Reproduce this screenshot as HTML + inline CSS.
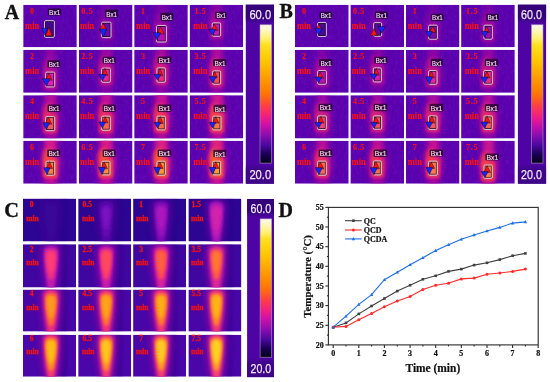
<!DOCTYPE html><html><head><meta charset="utf-8"><title>Thermal imaging figure</title>
<style>html,body{margin:0;padding:0;background:#fff;width:550px;height:382px;overflow:hidden}svg{display:block}.lab{font-family:"Liberation Serif",serif;font-weight:bold;fill:#111;stroke:#111;stroke-width:0.35px}.red{font-family:"Liberation Serif",serif;font-weight:bold;fill:#ff1010;stroke:#ff1010;stroke-width:0.15px}.cred{font-family:"Liberation Serif",serif;font-weight:bold;fill:#f41212;stroke:#f41212;stroke-width:0.3px}.bx{font-family:"Liberation Sans",sans-serif;fill:#eee0ee;stroke:#eee0ee;stroke-width:0.12px}.cb{font-family:"Liberation Sans",sans-serif;fill:#f2e6f2;stroke:#f2e6f2;stroke-width:0.25px}.ax{font-family:"Liberation Serif",serif;font-weight:bold;fill:#111;stroke:#111;stroke-width:0.2px}</style></head><body>
<svg width="550" height="382" viewBox="0 0 550 382">
<defs>
<filter id="b0_6" x="-50%" y="-50%" width="200%" height="200%"><feGaussianBlur stdDeviation="0.6"/></filter>
<filter id="b1" x="-50%" y="-50%" width="200%" height="200%"><feGaussianBlur stdDeviation="1"/></filter>
<filter id="b1_5" x="-50%" y="-50%" width="200%" height="200%"><feGaussianBlur stdDeviation="1.5"/></filter>
<filter id="b2" x="-50%" y="-50%" width="200%" height="200%"><feGaussianBlur stdDeviation="2"/></filter>
<filter id="b2_5" x="-50%" y="-50%" width="200%" height="200%"><feGaussianBlur stdDeviation="2.5"/></filter>
<filter id="b3" x="-50%" y="-50%" width="200%" height="200%"><feGaussianBlur stdDeviation="3"/></filter>
<filter id="b4" x="-50%" y="-50%" width="200%" height="200%"><feGaussianBlur stdDeviation="4"/></filter>
<linearGradient id="cbar" x1="0" y1="0" x2="0" y2="1">
<stop offset="0" stop-color="#f8f8f0"/>
<stop offset="0.04" stop-color="#fdf8c0"/>
<stop offset="0.1" stop-color="#fff070"/>
<stop offset="0.146" stop-color="#ffe020"/>
<stop offset="0.255" stop-color="#ffc800"/>
<stop offset="0.36" stop-color="#ffa400"/>
<stop offset="0.47" stop-color="#ff8000"/>
<stop offset="0.52" stop-color="#ff6a10"/>
<stop offset="0.59" stop-color="#ff3c48"/>
<stop offset="0.67" stop-color="#ec1c88"/>
<stop offset="0.725" stop-color="#cc10a8"/>
<stop offset="0.8" stop-color="#8a0cb0"/>
<stop offset="0.87" stop-color="#4a08a0"/>
<stop offset="0.94" stop-color="#180050"/>
<stop offset="1" stop-color="#060018"/>
</linearGradient>
<linearGradient id="hdr" x1="0" y1="0" x2="0" y2="1"><stop offset="0" stop-color="#34037a"/><stop offset="0.7" stop-color="#34037a"/><stop offset="1" stop-color="#34037a" stop-opacity="0"/></linearGradient>
<linearGradient id="ftr" x1="0" y1="0" x2="0" y2="1"><stop offset="0" stop-color="#3e0588" stop-opacity="0"/><stop offset="0.3" stop-color="#3e0588"/><stop offset="1" stop-color="#3e0588"/></linearGradient>
<filter id="noise" x="0" y="0" width="100%" height="100%"><feTurbulence type="fractalNoise" baseFrequency="0.45 0.2" numOctaves="2" seed="3" result="n"/><feColorMatrix in="n" type="matrix" values="0 0 0 0 0.5  0 0 0 0 0.05  0 0 0 0 0.85  0 0 0 1.6 -0.6"/></filter>
</defs>
<rect width="550" height="382" fill="#fff"/>
<text class="lab" x="4.8" y="18.5" font-size="20">A</text>
<text class="lab" x="279.4" y="17.9" font-size="20">B</text>
<text class="lab" x="4.2" y="216.9" font-size="20.3">C</text>
<text class="lab" x="278.6" y="216.7" font-size="20">D</text>
<clipPath id="cA0"><rect x="23.2" y="4.8" width="53.6" height="42.5"/></clipPath>
<g clip-path="url(#cA0)">
<rect x="23.2" y="4.8" width="53.6" height="42.5" fill="#5902ae"/>
<rect x="23.2" y="4.8" width="53.6" height="42.5" filter="url(#noise)" opacity="0.15"/>
</g>
<rect x="45.00" y="21.10" width="8.90" height="15.80" fill="#44088c"/>
<rect x="45.60" y="21.70" width="7.70" height="14.60" fill="none" stroke="#1a0a28" stroke-width="0.8" opacity="0.9"/>
<rect x="44.55" y="20.65" width="9.80" height="16.70" rx="1.2" fill="none" stroke="#d2c6d2" stroke-width="1.0"/>
<polygon points="45.35,35.75 48.75,27.25 52.15,35.75" fill="#ff1414" stroke="#12040c" stroke-width="0.45" stroke-linejoin="round"/>
<polygon points="41.85,28.25 47.95,28.25 44.90,35.15" fill="#1424ff" stroke="#12040c" stroke-width="0.45" stroke-linejoin="round"/>
<rect x="47.90" y="8.50" width="13.30" height="7.10" rx="1.3" fill="#180422" opacity="0.74"/>
<text class="bx" x="49.10" y="14.80" font-size="7.4" textLength="11.30" lengthAdjust="spacingAndGlyphs">Bx1</text>
<text class="red" x="32.1" y="13.8" font-size="8.1" text-anchor="middle" letter-spacing="0.0">0</text>
<text class="red" x="25.1" y="28.7" font-size="9.4" textLength="14.2" lengthAdjust="spacingAndGlyphs">min</text>
<clipPath id="cA1"><rect x="78.9" y="4.8" width="53.6" height="42.5"/></clipPath>
<g clip-path="url(#cA1)">
<rect x="78.9" y="4.8" width="53.6" height="42.5" fill="#5902ae"/>
<rect x="96.6" y="-1.2" width="20.0" height="54.5" fill="#7d00a6" opacity="0.08" filter="url(#b3)"/>
<linearGradient id="gA1" x1="0" y1="0" x2="1" y2="0"><stop offset="0" stop-color="#9a01a8" stop-opacity="0"/><stop offset="0.22" stop-color="#9a01a8" stop-opacity="0.55"/><stop offset="0.42" stop-color="#9a01a8"/><stop offset="0.6" stop-color="#9a01a8"/><stop offset="0.8" stop-color="#9a01a8" stop-opacity="0.5"/><stop offset="1" stop-color="#9a01a8" stop-opacity="0"/></linearGradient>
<rect x="97.1" y="4.8" width="19.0" height="42.5" fill="url(#gA1)" opacity="0.17"/>
<ellipse cx="106.6" cy="24.6" rx="9" ry="17.7" fill="#9a02a8" opacity="0.21" filter="url(#b3)"/>
<rect x="102.1" y="0.8" width="9.0" height="39.4" fill="#b50c9c" opacity="0.07" filter="url(#b2)"/>
<ellipse cx="103.6" cy="17.2" rx="4.5" ry="8.4" fill="#db1d84" opacity="0.07" filter="url(#b2)"/>
<rect x="99.3" y="19.8" width="14.1" height="20.2" fill="#c91492" opacity="0.32" filter="url(#b1_5)"/>
<rect x="78.9" y="4.8" width="53.6" height="42.5" filter="url(#noise)" opacity="0.15"/>
</g>
<rect x="102.10" y="22.60" width="8.50" height="14.60" fill="#6a0aa8"/>
<rect x="102.70" y="23.20" width="7.30" height="13.40" fill="none" stroke="#1a0a28" stroke-width="0.8" opacity="0.9"/>
<rect x="101.65" y="22.15" width="9.40" height="15.50" rx="1.2" fill="none" stroke="#d2c6d2" stroke-width="1.0"/>
<polygon points="99.25,30.45 103.00,22.95 106.75,30.45" fill="#ff1414" stroke="#12040c" stroke-width="0.45" stroke-linejoin="round"/>
<polygon points="99.65,28.95 106.75,28.95 103.20,37.15" fill="#1424ff" stroke="#12040c" stroke-width="0.45" stroke-linejoin="round"/>
<rect x="105.10" y="9.60" width="12.80" height="8.00" rx="1.3" fill="#180422" opacity="0.74"/>
<text class="bx" x="106.30" y="16.80" font-size="7.4" textLength="10.80" lengthAdjust="spacingAndGlyphs">Bx1</text>
<text class="red" x="87.4" y="13.8" font-size="8.1" text-anchor="middle" letter-spacing="0.7">0.5</text>
<text class="red" x="80.1" y="28.7" font-size="9.4" textLength="14.2" lengthAdjust="spacingAndGlyphs">min</text>
<clipPath id="cA2"><rect x="134.2" y="4.8" width="53.6" height="42.5"/></clipPath>
<g clip-path="url(#cA2)">
<rect x="134.2" y="4.8" width="53.6" height="42.5" fill="#5902ae"/>
<rect x="151.8" y="-1.2" width="20.0" height="54.5" fill="#7f00a7" opacity="0.11" filter="url(#b3)"/>
<linearGradient id="gA2" x1="0" y1="0" x2="1" y2="0"><stop offset="0" stop-color="#9d03a7" stop-opacity="0"/><stop offset="0.22" stop-color="#9d03a7" stop-opacity="0.55"/><stop offset="0.42" stop-color="#9d03a7"/><stop offset="0.6" stop-color="#9d03a7"/><stop offset="0.8" stop-color="#9d03a7" stop-opacity="0.5"/><stop offset="1" stop-color="#9d03a7" stop-opacity="0"/></linearGradient>
<rect x="152.2" y="4.8" width="19.0" height="42.5" fill="url(#gA2)" opacity="0.24"/>
<ellipse cx="161.8" cy="28.4" rx="9" ry="18.2" fill="#9f03a6" opacity="0.28" filter="url(#b3)"/>
<rect x="157.2" y="0.8" width="9.0" height="43.8" fill="#b80d9a" opacity="0.13" filter="url(#b2)"/>
<ellipse cx="158.5" cy="20.5" rx="4.5" ry="8.4" fill="#df217c" opacity="0.15" filter="url(#b2)"/>
<rect x="154.2" y="23.1" width="14.5" height="21.3" fill="#d1178f" opacity="0.38" filter="url(#b1_5)"/>
<rect x="134.2" y="4.8" width="53.6" height="42.5" filter="url(#noise)" opacity="0.15"/>
</g>
<rect x="157.00" y="25.90" width="8.90" height="15.70" fill="#b010b4"/>
<rect x="157.60" y="26.50" width="7.70" height="14.50" fill="none" stroke="#1a0a28" stroke-width="0.8" opacity="0.9"/>
<rect x="156.55" y="25.45" width="9.80" height="16.60" rx="1.2" fill="none" stroke="#d2c6d2" stroke-width="1.0"/>
<polygon points="157.05,33.85 160.60,26.65 164.15,33.85" fill="#ff1414" stroke="#12040c" stroke-width="0.45" stroke-linejoin="round"/>
<polygon points="153.15,32.65 160.65,32.65 156.90,39.85" fill="#1424ff" stroke="#12040c" stroke-width="0.45" stroke-linejoin="round"/>
<rect x="160.50" y="12.80" width="12.80" height="8.10" rx="1.3" fill="#180422" opacity="0.74"/>
<text class="bx" x="161.70" y="20.10" font-size="7.4" textLength="10.80" lengthAdjust="spacingAndGlyphs">Bx1</text>
<text class="red" x="143.1" y="13.8" font-size="8.1" text-anchor="middle" letter-spacing="0.0">1</text>
<text class="red" x="136.1" y="28.7" font-size="9.4" textLength="14.2" lengthAdjust="spacingAndGlyphs">min</text>
<clipPath id="cA3"><rect x="189.6" y="4.8" width="53.6" height="42.5"/></clipPath>
<g clip-path="url(#cA3)">
<rect x="189.6" y="4.8" width="53.6" height="42.5" fill="#5902ae"/>
<rect x="206.8" y="-1.2" width="20.0" height="54.5" fill="#8000a7" opacity="0.14" filter="url(#b3)"/>
<linearGradient id="gA3" x1="0" y1="0" x2="1" y2="0"><stop offset="0" stop-color="#a104a5" stop-opacity="0"/><stop offset="0.22" stop-color="#a104a5" stop-opacity="0.55"/><stop offset="0.42" stop-color="#a104a5"/><stop offset="0.6" stop-color="#a104a5"/><stop offset="0.8" stop-color="#a104a5" stop-opacity="0.5"/><stop offset="1" stop-color="#a104a5" stop-opacity="0"/></linearGradient>
<rect x="207.2" y="4.8" width="19.0" height="42.5" fill="url(#gA3)" opacity="0.31"/>
<ellipse cx="216.8" cy="24.9" rx="9" ry="15.8" fill="#a305a4" opacity="0.35" filter="url(#b3)"/>
<rect x="212.2" y="0.8" width="9.0" height="38.0" fill="#bc0f98" opacity="0.20" filter="url(#b2)"/>
<ellipse cx="214.2" cy="18.7" rx="4.5" ry="7.6" fill="#e32575" opacity="0.22" filter="url(#b2)"/>
<rect x="209.9" y="20.5" width="13.1" height="18.1" fill="#d81a8a" opacity="0.45" filter="url(#b1_5)"/>
<rect x="189.6" y="4.8" width="53.6" height="42.5" filter="url(#noise)" opacity="0.15"/>
</g>
<rect x="212.70" y="23.30" width="7.50" height="12.50" fill="#c818b0"/>
<rect x="213.30" y="23.90" width="6.30" height="11.30" fill="none" stroke="#1a0a28" stroke-width="0.8" opacity="0.9"/>
<rect x="212.25" y="22.85" width="8.40" height="13.40" rx="1.2" fill="none" stroke="#d2c6d2" stroke-width="1.0"/>
<polygon points="210.85,30.45 214.40,24.35 217.95,30.45" fill="#ff1414" stroke="#12040c" stroke-width="0.45" stroke-linejoin="round"/>
<polygon points="208.85,29.25 215.95,29.25 212.40,35.35" fill="#1424ff" stroke="#12040c" stroke-width="0.45" stroke-linejoin="round"/>
<rect x="215.20" y="11.80" width="11.40" height="6.90" rx="1.3" fill="#180422" opacity="0.74"/>
<text class="bx" x="216.40" y="17.90" font-size="7.4" textLength="9.40" lengthAdjust="spacingAndGlyphs">Bx1</text>
<text class="red" x="200.5" y="13.8" font-size="8.1" text-anchor="middle" letter-spacing="0.7">1.5</text>
<text class="red" x="193.2" y="28.7" font-size="9.4" textLength="14.2" lengthAdjust="spacingAndGlyphs">min</text>
<clipPath id="cA4"><rect x="23.2" y="49.8" width="53.6" height="43.0"/></clipPath>
<g clip-path="url(#cA4)">
<rect x="23.2" y="49.8" width="53.6" height="43.0" fill="#5902ae"/>
<rect x="40.5" y="43.8" width="20.0" height="55.0" fill="#8200a7" opacity="0.17" filter="url(#b3)"/>
<linearGradient id="gA4" x1="0" y1="0" x2="1" y2="0"><stop offset="0" stop-color="#a406a3" stop-opacity="0"/><stop offset="0.22" stop-color="#a406a3" stop-opacity="0.55"/><stop offset="0.42" stop-color="#a406a3"/><stop offset="0.6" stop-color="#a406a3"/><stop offset="0.8" stop-color="#a406a3" stop-opacity="0.5"/><stop offset="1" stop-color="#a406a3" stop-opacity="0"/></linearGradient>
<rect x="41.0" y="49.8" width="19.0" height="43.0" fill="url(#gA4)" opacity="0.38"/>
<ellipse cx="50.5" cy="74.5" rx="9" ry="17.0" fill="#a707a2" opacity="0.42" filter="url(#b3)"/>
<rect x="46.0" y="45.8" width="9.0" height="43.7" fill="#c01097" opacity="0.27" filter="url(#b2)"/>
<ellipse cx="47.6" cy="67.5" rx="4.5" ry="8.0" fill="#e7296d" opacity="0.29" filter="url(#b2)"/>
<rect x="43.3" y="69.7" width="13.8" height="19.6" fill="#dc1e81" opacity="0.52" filter="url(#b1_5)"/>
<rect x="23.2" y="49.8" width="53.6" height="43.0" filter="url(#noise)" opacity="0.15"/>
</g>
<rect x="46.10" y="72.50" width="8.20" height="14.00" fill="#e020b8"/>
<rect x="46.70" y="73.10" width="7.00" height="12.80" fill="none" stroke="#1a0a28" stroke-width="0.8" opacity="0.9"/>
<rect x="45.65" y="72.05" width="9.10" height="14.90" rx="1.2" fill="none" stroke="#d2c6d2" stroke-width="1.0"/>
<polygon points="45.75,80.15 48.95,73.05 52.15,80.15" fill="#ff1414" stroke="#12040c" stroke-width="0.45" stroke-linejoin="round"/>
<polygon points="42.55,78.65 50.05,78.65 46.30,86.15" fill="#1424ff" stroke="#12040c" stroke-width="0.45" stroke-linejoin="round"/>
<rect x="47.50" y="60.20" width="12.80" height="7.40" rx="1.3" fill="#180422" opacity="0.74"/>
<text class="bx" x="48.70" y="66.80" font-size="7.4" textLength="10.80" lengthAdjust="spacingAndGlyphs">Bx1</text>
<text class="red" x="32.1" y="58.8" font-size="8.1" text-anchor="middle" letter-spacing="0.0">2</text>
<text class="red" x="25.1" y="73.7" font-size="9.4" textLength="14.2" lengthAdjust="spacingAndGlyphs">min</text>
<clipPath id="cA5"><rect x="78.9" y="49.8" width="53.6" height="43.0"/></clipPath>
<g clip-path="url(#cA5)">
<rect x="78.9" y="49.8" width="53.6" height="43.0" fill="#5902ae"/>
<rect x="96.3" y="43.8" width="20.0" height="55.0" fill="#8400a7" opacity="0.20" filter="url(#b3)"/>
<linearGradient id="gA5" x1="0" y1="0" x2="1" y2="0"><stop offset="0" stop-color="#a807a2" stop-opacity="0"/><stop offset="0.22" stop-color="#a807a2" stop-opacity="0.55"/><stop offset="0.42" stop-color="#a807a2"/><stop offset="0.6" stop-color="#a807a2"/><stop offset="0.8" stop-color="#a807a2" stop-opacity="0.5"/><stop offset="1" stop-color="#a807a2" stop-opacity="0"/></linearGradient>
<rect x="96.8" y="49.8" width="19.0" height="43.0" fill="url(#gA5)" opacity="0.45"/>
<ellipse cx="106.3" cy="70.4" rx="9" ry="16.4" fill="#ac08a0" opacity="0.49" filter="url(#b3)"/>
<rect x="101.8" y="45.8" width="9.0" height="39.0" fill="#c31195" opacity="0.33" filter="url(#b2)"/>
<ellipse cx="103.6" cy="63.8" rx="4.5" ry="7.8" fill="#ea2c65" opacity="0.37" filter="url(#b2)"/>
<rect x="99.3" y="65.7" width="13.4" height="18.9" fill="#e12379" opacity="0.58" filter="url(#b1_5)"/>
<rect x="78.9" y="49.8" width="53.6" height="43.0" filter="url(#noise)" opacity="0.15"/>
</g>
<rect x="102.10" y="68.50" width="7.80" height="13.30" fill="#f02494"/>
<rect x="102.70" y="69.10" width="6.60" height="12.10" fill="none" stroke="#1a0a28" stroke-width="0.8" opacity="0.9"/>
<rect x="101.65" y="68.05" width="8.70" height="14.20" rx="1.2" fill="none" stroke="#d2c6d2" stroke-width="1.0"/>
<polygon points="102.05,75.45 104.90,68.25 107.75,75.45" fill="#ff1414" stroke="#12040c" stroke-width="0.45" stroke-linejoin="round"/>
<polygon points="98.55,74.35 106.05,74.35 102.30,80.75" fill="#1424ff" stroke="#12040c" stroke-width="0.45" stroke-linejoin="round"/>
<rect x="102.60" y="56.70" width="13.00" height="6.90" rx="1.3" fill="#180422" opacity="0.74"/>
<text class="bx" x="103.80" y="62.80" font-size="7.4" textLength="11.00" lengthAdjust="spacingAndGlyphs">Bx1</text>
<text class="red" x="87.4" y="58.8" font-size="8.1" text-anchor="middle" letter-spacing="0.7">2.5</text>
<text class="red" x="80.1" y="73.7" font-size="9.4" textLength="14.2" lengthAdjust="spacingAndGlyphs">min</text>
<clipPath id="cA6"><rect x="134.2" y="49.8" width="53.6" height="43.0"/></clipPath>
<g clip-path="url(#cA6)">
<rect x="134.2" y="49.8" width="53.6" height="43.0" fill="#5902ae"/>
<rect x="151.5" y="43.8" width="20.0" height="55.0" fill="#8600a8" opacity="0.22" filter="url(#b3)"/>
<linearGradient id="gA6" x1="0" y1="0" x2="1" y2="0"><stop offset="0" stop-color="#ac08a0" stop-opacity="0"/><stop offset="0.22" stop-color="#ac08a0" stop-opacity="0.55"/><stop offset="0.42" stop-color="#ac08a0"/><stop offset="0.6" stop-color="#ac08a0"/><stop offset="0.8" stop-color="#ac08a0" stop-opacity="0.5"/><stop offset="1" stop-color="#ac08a0" stop-opacity="0"/></linearGradient>
<rect x="152.0" y="49.8" width="19.0" height="43.0" fill="url(#gA6)" opacity="0.53"/>
<ellipse cx="161.5" cy="70.3" rx="9" ry="16.5" fill="#b00a9e" opacity="0.57" filter="url(#b3)"/>
<rect x="157.0" y="45.8" width="9.0" height="39.0" fill="#c71394" opacity="0.40" filter="url(#b2)"/>
<ellipse cx="158.9" cy="63.5" rx="4.5" ry="7.8" fill="#ee305d" opacity="0.44" filter="url(#b2)"/>
<rect x="154.6" y="65.5" width="13.1" height="19.1" fill="#e52770" opacity="0.65" filter="url(#b1_5)"/>
<rect x="134.2" y="49.8" width="53.6" height="43.0" filter="url(#noise)" opacity="0.15"/>
</g>
<rect x="157.40" y="68.30" width="7.50" height="13.50" fill="#f02a80"/>
<rect x="158.00" y="68.90" width="6.30" height="12.30" fill="none" stroke="#1a0a28" stroke-width="0.8" opacity="0.9"/>
<rect x="156.95" y="67.85" width="8.40" height="14.40" rx="1.2" fill="none" stroke="#d2c6d2" stroke-width="1.0"/>
<polygon points="157.45,75.85 160.15,68.65 162.85,75.85" fill="#ff1414" stroke="#12040c" stroke-width="0.45" stroke-linejoin="round"/>
<polygon points="153.85,74.35 161.05,74.35 157.45,80.05" fill="#1424ff" stroke="#12040c" stroke-width="0.45" stroke-linejoin="round"/>
<rect x="157.60" y="56.50" width="13.70" height="7.10" rx="1.3" fill="#180422" opacity="0.74"/>
<text class="bx" x="158.80" y="62.80" font-size="7.4" textLength="11.70" lengthAdjust="spacingAndGlyphs">Bx1</text>
<text class="red" x="143.1" y="58.8" font-size="8.1" text-anchor="middle" letter-spacing="0.0">3</text>
<text class="red" x="136.1" y="73.7" font-size="9.4" textLength="14.2" lengthAdjust="spacingAndGlyphs">min</text>
<clipPath id="cA7"><rect x="189.6" y="49.8" width="53.6" height="43.0"/></clipPath>
<g clip-path="url(#cA7)">
<rect x="189.6" y="49.8" width="53.6" height="43.0" fill="#5902ae"/>
<rect x="206.9" y="43.8" width="20.0" height="55.0" fill="#8800a8" opacity="0.25" filter="url(#b3)"/>
<linearGradient id="gA7" x1="0" y1="0" x2="1" y2="0"><stop offset="0" stop-color="#af0a9e" stop-opacity="0"/><stop offset="0.22" stop-color="#af0a9e" stop-opacity="0.55"/><stop offset="0.42" stop-color="#af0a9e"/><stop offset="0.6" stop-color="#af0a9e"/><stop offset="0.8" stop-color="#af0a9e" stop-opacity="0.5"/><stop offset="1" stop-color="#af0a9e" stop-opacity="0"/></linearGradient>
<rect x="207.4" y="49.8" width="19.0" height="43.0" fill="url(#gA7)" opacity="0.60"/>
<ellipse cx="216.9" cy="72.6" rx="9" ry="16.2" fill="#b40c9c" opacity="0.64" filter="url(#b3)"/>
<rect x="212.4" y="45.8" width="9.0" height="41.0" fill="#ca1492" opacity="0.47" filter="url(#b2)"/>
<ellipse cx="214.6" cy="66.3" rx="4.5" ry="7.9" fill="#f23456" opacity="0.51" filter="url(#b2)"/>
<rect x="210.3" y="68.5" width="12.7" height="18.1" fill="#e92b67" opacity="0.72" filter="url(#b1_5)"/>
<rect x="189.6" y="49.8" width="53.6" height="43.0" filter="url(#noise)" opacity="0.15"/>
</g>
<rect x="213.10" y="71.30" width="7.10" height="12.50" fill="#f44a5a"/>
<rect x="213.70" y="71.90" width="5.90" height="11.30" fill="none" stroke="#1a0a28" stroke-width="0.8" opacity="0.9"/>
<rect x="212.65" y="70.85" width="8.00" height="13.40" rx="1.2" fill="none" stroke="#d2c6d2" stroke-width="1.0"/>
<polygon points="212.05,77.75 214.70,71.65 217.35,77.75" fill="#ff1414" stroke="#12040c" stroke-width="0.45" stroke-linejoin="round"/>
<polygon points="209.15,76.55 216.35,76.55 212.75,83.05" fill="#1424ff" stroke="#12040c" stroke-width="0.45" stroke-linejoin="round"/>
<rect x="213.20" y="59.10" width="13.10" height="7.20" rx="1.3" fill="#180422" opacity="0.74"/>
<text class="bx" x="214.40" y="65.50" font-size="7.4" textLength="11.10" lengthAdjust="spacingAndGlyphs">Bx1</text>
<text class="red" x="200.5" y="58.8" font-size="8.1" text-anchor="middle" letter-spacing="0.7">3.5</text>
<text class="red" x="193.2" y="73.7" font-size="9.4" textLength="14.2" lengthAdjust="spacingAndGlyphs">min</text>
<clipPath id="cA8"><rect x="23.2" y="95.2" width="53.6" height="43.3"/></clipPath>
<g clip-path="url(#cA8)">
<rect x="23.2" y="95.2" width="53.6" height="43.3" fill="#5902ae"/>
<rect x="40.5" y="89.2" width="20.0" height="55.3" fill="#8900a8" opacity="0.28" filter="url(#b3)"/>
<linearGradient id="gA8" x1="0" y1="0" x2="1" y2="0"><stop offset="0" stop-color="#b30b9d" stop-opacity="0"/><stop offset="0.22" stop-color="#b30b9d" stop-opacity="0.55"/><stop offset="0.42" stop-color="#b30b9d"/><stop offset="0.6" stop-color="#b30b9d"/><stop offset="0.8" stop-color="#b30b9d" stop-opacity="0.5"/><stop offset="1" stop-color="#b30b9d" stop-opacity="0"/></linearGradient>
<rect x="41.0" y="95.2" width="19.0" height="43.3" fill="url(#gA8)" opacity="0.67"/>
<ellipse cx="50.5" cy="118.5" rx="9" ry="16.7" fill="#b90d9a" opacity="0.71" filter="url(#b3)"/>
<rect x="46.0" y="91.2" width="9.0" height="42.0" fill="#ce1690" opacity="0.53" filter="url(#b2)"/>
<ellipse cx="47.6" cy="111.9" rx="4.5" ry="8.1" fill="#f6384e" opacity="0.59" filter="url(#b2)"/>
<rect x="43.3" y="114.2" width="13.8" height="18.8" fill="#ee305f" opacity="0.78" filter="url(#b1_5)"/>
<rect x="23.2" y="95.2" width="53.6" height="43.3" filter="url(#noise)" opacity="0.15"/>
</g>
<rect x="46.10" y="117.00" width="8.20" height="13.20" fill="#f25a5a"/>
<rect x="46.70" y="117.60" width="7.00" height="12.00" fill="none" stroke="#1a0a28" stroke-width="0.8" opacity="0.9"/>
<rect x="45.65" y="116.55" width="9.10" height="14.10" rx="1.2" fill="none" stroke="#d2c6d2" stroke-width="1.0"/>
<polygon points="45.05,124.15 48.45,117.35 51.85,124.15" fill="#ff1414" stroke="#12040c" stroke-width="0.45" stroke-linejoin="round"/>
<polygon points="42.85,122.65 49.65,122.65 46.25,129.85" fill="#1424ff" stroke="#12040c" stroke-width="0.45" stroke-linejoin="round"/>
<rect x="47.50" y="104.50" width="12.80" height="7.50" rx="1.3" fill="#180422" opacity="0.74"/>
<text class="bx" x="48.70" y="111.20" font-size="7.4" textLength="10.80" lengthAdjust="spacingAndGlyphs">Bx1</text>
<text class="red" x="32.1" y="104.2" font-size="8.1" text-anchor="middle" letter-spacing="0.0">4</text>
<text class="red" x="25.1" y="119.1" font-size="9.4" textLength="14.2" lengthAdjust="spacingAndGlyphs">min</text>
<clipPath id="cA9"><rect x="78.9" y="95.2" width="53.6" height="43.3"/></clipPath>
<g clip-path="url(#cA9)">
<rect x="78.9" y="95.2" width="53.6" height="43.3" fill="#5902ae"/>
<rect x="96.3" y="89.2" width="20.0" height="55.3" fill="#8b00a8" opacity="0.31" filter="url(#b3)"/>
<linearGradient id="gA9" x1="0" y1="0" x2="1" y2="0"><stop offset="0" stop-color="#b60c9b" stop-opacity="0"/><stop offset="0.22" stop-color="#b60c9b" stop-opacity="0.55"/><stop offset="0.42" stop-color="#b60c9b"/><stop offset="0.6" stop-color="#b60c9b"/><stop offset="0.8" stop-color="#b60c9b" stop-opacity="0.5"/><stop offset="1" stop-color="#b60c9b" stop-opacity="0"/></linearGradient>
<rect x="96.8" y="95.2" width="19.0" height="43.3" fill="url(#gA9)" opacity="0.74"/>
<ellipse cx="106.3" cy="118.3" rx="9" ry="16.5" fill="#bd0f98" opacity="0.78" filter="url(#b3)"/>
<rect x="101.8" y="91.2" width="9.0" height="41.6" fill="#d2178e" opacity="0.60" filter="url(#b2)"/>
<ellipse cx="103.6" cy="111.7" rx="4.5" ry="7.9" fill="#fa3c46" opacity="0.66" filter="url(#b2)"/>
<rect x="99.3" y="113.8" width="13.4" height="18.8" fill="#f23456" opacity="0.85" filter="url(#b1_5)"/>
<rect x="78.9" y="95.2" width="53.6" height="43.3" filter="url(#noise)" opacity="0.15"/>
</g>
<rect x="102.10" y="116.60" width="7.80" height="13.20" fill="#f66450"/>
<rect x="102.70" y="117.20" width="6.60" height="12.00" fill="none" stroke="#1a0a28" stroke-width="0.8" opacity="0.9"/>
<rect x="101.65" y="116.15" width="8.70" height="14.10" rx="1.2" fill="none" stroke="#d2c6d2" stroke-width="1.0"/>
<polygon points="102.45,122.75 105.15,116.65 107.85,122.75" fill="#ff1414" stroke="#12040c" stroke-width="0.45" stroke-linejoin="round"/>
<polygon points="98.85,121.95 105.65,121.95 102.25,128.05" fill="#1424ff" stroke="#12040c" stroke-width="0.45" stroke-linejoin="round"/>
<rect x="102.60" y="104.50" width="13.00" height="7.50" rx="1.3" fill="#180422" opacity="0.74"/>
<text class="bx" x="103.80" y="111.20" font-size="7.4" textLength="11.00" lengthAdjust="spacingAndGlyphs">Bx1</text>
<text class="red" x="87.4" y="104.2" font-size="8.1" text-anchor="middle" letter-spacing="0.7">4.5</text>
<text class="red" x="80.1" y="119.1" font-size="9.4" textLength="14.2" lengthAdjust="spacingAndGlyphs">min</text>
<clipPath id="cA10"><rect x="134.2" y="95.2" width="53.6" height="43.3"/></clipPath>
<g clip-path="url(#cA10)">
<rect x="134.2" y="95.2" width="53.6" height="43.3" fill="#5902ae"/>
<rect x="151.5" y="89.2" width="20.0" height="55.3" fill="#8d00a9" opacity="0.34" filter="url(#b3)"/>
<linearGradient id="gA10" x1="0" y1="0" x2="1" y2="0"><stop offset="0" stop-color="#ba0e99" stop-opacity="0"/><stop offset="0.22" stop-color="#ba0e99" stop-opacity="0.55"/><stop offset="0.42" stop-color="#ba0e99"/><stop offset="0.6" stop-color="#ba0e99"/><stop offset="0.8" stop-color="#ba0e99" stop-opacity="0.5"/><stop offset="1" stop-color="#ba0e99" stop-opacity="0"/></linearGradient>
<rect x="152.0" y="95.2" width="19.0" height="43.3" fill="url(#gA10)" opacity="0.81"/>
<ellipse cx="161.5" cy="118.2" rx="9" ry="16.4" fill="#c11196" opacity="0.85" filter="url(#b3)"/>
<rect x="157.0" y="91.2" width="9.0" height="41.3" fill="#d5188d" opacity="0.67" filter="url(#b2)"/>
<ellipse cx="158.9" cy="111.7" rx="4.5" ry="7.9" fill="#fb4340" opacity="0.73" filter="url(#b2)"/>
<rect x="154.6" y="113.8" width="13.1" height="18.5" fill="#f6384e" opacity="0.92" filter="url(#b1_5)"/>
<rect x="134.2" y="95.2" width="53.6" height="43.3" filter="url(#noise)" opacity="0.15"/>
</g>
<rect x="157.40" y="116.60" width="7.50" height="12.90" fill="#f86c48"/>
<rect x="158.00" y="117.20" width="6.30" height="11.70" fill="none" stroke="#1a0a28" stroke-width="0.8" opacity="0.9"/>
<rect x="156.95" y="116.15" width="8.40" height="13.80" rx="1.2" fill="none" stroke="#d2c6d2" stroke-width="1.0"/>
<polygon points="157.45,123.45 160.30,116.65 163.15,123.45" fill="#ff1414" stroke="#12040c" stroke-width="0.45" stroke-linejoin="round"/>
<polygon points="153.85,122.35 161.05,122.35 157.45,128.05" fill="#1424ff" stroke="#12040c" stroke-width="0.45" stroke-linejoin="round"/>
<rect x="157.60" y="104.50" width="13.70" height="7.50" rx="1.3" fill="#180422" opacity="0.74"/>
<text class="bx" x="158.80" y="111.20" font-size="7.4" textLength="11.70" lengthAdjust="spacingAndGlyphs">Bx1</text>
<text class="red" x="143.1" y="104.2" font-size="8.1" text-anchor="middle" letter-spacing="0.0">5</text>
<text class="red" x="136.1" y="119.1" font-size="9.4" textLength="14.2" lengthAdjust="spacingAndGlyphs">min</text>
<clipPath id="cA11"><rect x="189.6" y="95.2" width="53.6" height="43.3"/></clipPath>
<g clip-path="url(#cA11)">
<rect x="189.6" y="95.2" width="53.6" height="43.3" fill="#5902ae"/>
<rect x="207.2" y="89.2" width="20.0" height="55.3" fill="#8f00a9" opacity="0.37" filter="url(#b3)"/>
<linearGradient id="gA11" x1="0" y1="0" x2="1" y2="0"><stop offset="0" stop-color="#be0f98" stop-opacity="0"/><stop offset="0.22" stop-color="#be0f98" stop-opacity="0.55"/><stop offset="0.42" stop-color="#be0f98"/><stop offset="0.6" stop-color="#be0f98"/><stop offset="0.8" stop-color="#be0f98" stop-opacity="0.5"/><stop offset="1" stop-color="#be0f98" stop-opacity="0"/></linearGradient>
<rect x="207.7" y="95.2" width="19.0" height="43.3" fill="url(#gA11)" opacity="0.88"/>
<ellipse cx="217.2" cy="118.3" rx="9" ry="16.2" fill="#c61294" opacity="0.90" filter="url(#b3)"/>
<rect x="212.7" y="91.2" width="9.0" height="41.3" fill="#d81a8a" opacity="0.73" filter="url(#b2)"/>
<ellipse cx="214.6" cy="111.8" rx="4.5" ry="7.8" fill="#fb493b" opacity="0.81" filter="url(#b2)"/>
<rect x="210.3" y="113.8" width="13.1" height="18.5" fill="#fa3d45" opacity="0.98" filter="url(#b1_5)"/>
<rect x="189.6" y="95.2" width="53.6" height="43.3" filter="url(#noise)" opacity="0.15"/>
</g>
<rect x="213.10" y="116.60" width="7.50" height="12.90" fill="#fa7444"/>
<rect x="213.70" y="117.20" width="6.30" height="11.70" fill="none" stroke="#1a0a28" stroke-width="0.8" opacity="0.9"/>
<rect x="212.65" y="116.15" width="8.40" height="13.80" rx="1.2" fill="none" stroke="#d2c6d2" stroke-width="1.0"/>
<polygon points="212.75,123.05 215.80,116.65 218.85,123.05" fill="#ff1414" stroke="#12040c" stroke-width="0.45" stroke-linejoin="round"/>
<polygon points="209.15,122.35 215.95,122.35 212.55,128.05" fill="#1424ff" stroke="#12040c" stroke-width="0.45" stroke-linejoin="round"/>
<rect x="213.50" y="104.80" width="12.80" height="7.50" rx="1.3" fill="#180422" opacity="0.74"/>
<text class="bx" x="214.70" y="111.50" font-size="7.4" textLength="10.80" lengthAdjust="spacingAndGlyphs">Bx1</text>
<text class="red" x="200.5" y="104.2" font-size="8.1" text-anchor="middle" letter-spacing="0.7">5.5</text>
<text class="red" x="193.2" y="119.1" font-size="9.4" textLength="14.2" lengthAdjust="spacingAndGlyphs">min</text>
<clipPath id="cA12"><rect x="23.2" y="140.7" width="53.6" height="43.0"/></clipPath>
<g clip-path="url(#cA12)">
<rect x="23.2" y="140.7" width="53.6" height="43.0" fill="#5902ae"/>
<rect x="40.6" y="134.7" width="20.0" height="55.0" fill="#9100a9" opacity="0.40" filter="url(#b3)"/>
<linearGradient id="gA12" x1="0" y1="0" x2="1" y2="0"><stop offset="0" stop-color="#c11196" stop-opacity="0"/><stop offset="0.22" stop-color="#c11196" stop-opacity="0.55"/><stop offset="0.42" stop-color="#c11196"/><stop offset="0.6" stop-color="#c11196"/><stop offset="0.8" stop-color="#c11196" stop-opacity="0.5"/><stop offset="1" stop-color="#c11196" stop-opacity="0"/></linearGradient>
<rect x="41.1" y="140.7" width="19.0" height="43.0" fill="url(#gA12)" opacity="0.95"/>
<ellipse cx="50.6" cy="163.3" rx="9" ry="16.5" fill="#ca1492" opacity="0.90" filter="url(#b3)"/>
<rect x="46.1" y="136.7" width="9.0" height="41.1" fill="#da1c86" opacity="0.80" filter="url(#b2)"/>
<ellipse cx="47.9" cy="156.7" rx="4.5" ry="7.9" fill="#fc5035" opacity="0.88" filter="url(#b2)"/>
<rect x="43.6" y="158.8" width="13.5" height="18.8" fill="#fb443f" opacity="1.00" filter="url(#b1_5)"/>
<rect x="23.2" y="140.7" width="53.6" height="43.0" filter="url(#noise)" opacity="0.15"/>
</g>
<rect x="46.40" y="161.60" width="7.90" height="13.20" fill="#fc8040"/>
<rect x="47.00" y="162.20" width="6.70" height="12.00" fill="none" stroke="#1a0a28" stroke-width="0.8" opacity="0.9"/>
<rect x="45.95" y="161.15" width="8.80" height="14.10" rx="1.2" fill="none" stroke="#d2c6d2" stroke-width="1.0"/>
<polygon points="46.45,168.45 49.50,161.65 52.55,168.45" fill="#ff1414" stroke="#12040c" stroke-width="0.45" stroke-linejoin="round"/>
<polygon points="43.65,167.65 50.05,167.65 46.85,174.85" fill="#1424ff" stroke="#12040c" stroke-width="0.45" stroke-linejoin="round"/>
<rect x="47.20" y="149.50" width="13.10" height="7.50" rx="1.3" fill="#180422" opacity="0.74"/>
<text class="bx" x="48.40" y="156.20" font-size="7.4" textLength="11.10" lengthAdjust="spacingAndGlyphs">Bx1</text>
<text class="red" x="32.1" y="149.7" font-size="8.1" text-anchor="middle" letter-spacing="0.0">6</text>
<text class="red" x="25.1" y="164.6" font-size="9.4" textLength="14.2" lengthAdjust="spacingAndGlyphs">min</text>
<clipPath id="cA13"><rect x="78.9" y="140.7" width="53.6" height="43.0"/></clipPath>
<g clip-path="url(#cA13)">
<rect x="78.9" y="140.7" width="53.6" height="43.0" fill="#5902ae"/>
<rect x="96.1" y="134.7" width="20.0" height="55.0" fill="#9200a9" opacity="0.40" filter="url(#b3)"/>
<linearGradient id="gA13" x1="0" y1="0" x2="1" y2="0"><stop offset="0" stop-color="#c51294" stop-opacity="0"/><stop offset="0.22" stop-color="#c51294" stop-opacity="0.55"/><stop offset="0.42" stop-color="#c51294"/><stop offset="0.6" stop-color="#c51294"/><stop offset="0.8" stop-color="#c51294" stop-opacity="0.5"/><stop offset="1" stop-color="#c51294" stop-opacity="0"/></linearGradient>
<rect x="96.6" y="140.7" width="19.0" height="43.0" fill="url(#gA13)" opacity="0.95"/>
<ellipse cx="106.1" cy="163.2" rx="9" ry="16.3" fill="#ce1690" opacity="0.90" filter="url(#b3)"/>
<rect x="101.6" y="136.7" width="9.0" height="40.8" fill="#dc1e82" opacity="0.87" filter="url(#b2)"/>
<ellipse cx="103.6" cy="156.7" rx="4.5" ry="7.9" fill="#fc5730" opacity="0.95" filter="url(#b2)"/>
<rect x="99.3" y="158.8" width="13.1" height="18.5" fill="#fb4b39" opacity="1.00" filter="url(#b1_5)"/>
<rect x="78.9" y="140.7" width="53.6" height="43.0" filter="url(#noise)" opacity="0.15"/>
</g>
<rect x="102.10" y="161.60" width="7.50" height="12.90" fill="#ff8a3a"/>
<rect x="102.70" y="162.20" width="6.30" height="11.70" fill="none" stroke="#1a0a28" stroke-width="0.8" opacity="0.9"/>
<rect x="101.65" y="161.15" width="8.40" height="13.80" rx="1.2" fill="none" stroke="#d2c6d2" stroke-width="1.0"/>
<polygon points="101.05,168.85 104.25,162.05 107.45,168.85" fill="#ff1414" stroke="#12040c" stroke-width="0.45" stroke-linejoin="round"/>
<polygon points="98.55,167.35 105.35,167.35 101.95,174.85" fill="#1424ff" stroke="#12040c" stroke-width="0.45" stroke-linejoin="round"/>
<rect x="102.60" y="149.50" width="13.00" height="7.50" rx="1.3" fill="#180422" opacity="0.74"/>
<text class="bx" x="103.80" y="156.20" font-size="7.4" textLength="11.00" lengthAdjust="spacingAndGlyphs">Bx1</text>
<text class="red" x="87.4" y="149.7" font-size="8.1" text-anchor="middle" letter-spacing="0.7">6.5</text>
<text class="red" x="80.1" y="164.6" font-size="9.4" textLength="14.2" lengthAdjust="spacingAndGlyphs">min</text>
<clipPath id="cA14"><rect x="134.2" y="140.7" width="53.6" height="43.0"/></clipPath>
<g clip-path="url(#cA14)">
<rect x="134.2" y="140.7" width="53.6" height="43.0" fill="#5902ae"/>
<rect x="151.5" y="134.7" width="20.0" height="55.0" fill="#9400aa" opacity="0.40" filter="url(#b3)"/>
<linearGradient id="gA14" x1="0" y1="0" x2="1" y2="0"><stop offset="0" stop-color="#c91393" stop-opacity="0"/><stop offset="0.22" stop-color="#c91393" stop-opacity="0.55"/><stop offset="0.42" stop-color="#c91393"/><stop offset="0.6" stop-color="#c91393"/><stop offset="0.8" stop-color="#c91393" stop-opacity="0.5"/><stop offset="1" stop-color="#c91393" stop-opacity="0"/></linearGradient>
<rect x="152.0" y="140.7" width="19.0" height="43.0" fill="url(#gA14)" opacity="0.95"/>
<ellipse cx="161.5" cy="163.3" rx="9" ry="16.5" fill="#d3178e" opacity="0.90" filter="url(#b3)"/>
<rect x="157.0" y="136.7" width="9.0" height="41.1" fill="#de207e" opacity="0.93" filter="url(#b2)"/>
<ellipse cx="158.9" cy="156.7" rx="4.5" ry="7.9" fill="#fd5d2a" opacity="1.00" filter="url(#b2)"/>
<rect x="154.6" y="158.8" width="13.1" height="18.8" fill="#fc5333" opacity="1.00" filter="url(#b1_5)"/>
<rect x="134.2" y="140.7" width="53.6" height="43.0" filter="url(#noise)" opacity="0.15"/>
</g>
<rect x="157.40" y="161.60" width="7.50" height="13.20" fill="#ff9434"/>
<rect x="158.00" y="162.20" width="6.30" height="12.00" fill="none" stroke="#1a0a28" stroke-width="0.8" opacity="0.9"/>
<rect x="156.95" y="161.15" width="8.40" height="14.10" rx="1.2" fill="none" stroke="#d2c6d2" stroke-width="1.0"/>
<polygon points="156.75,168.45 159.95,162.05 163.15,168.45" fill="#ff1414" stroke="#12040c" stroke-width="0.45" stroke-linejoin="round"/>
<polygon points="153.85,167.35 160.65,167.35 157.25,174.85" fill="#1424ff" stroke="#12040c" stroke-width="0.45" stroke-linejoin="round"/>
<rect x="157.60" y="149.50" width="13.70" height="7.50" rx="1.3" fill="#180422" opacity="0.74"/>
<text class="bx" x="158.80" y="156.20" font-size="7.4" textLength="11.70" lengthAdjust="spacingAndGlyphs">Bx1</text>
<text class="red" x="143.1" y="149.7" font-size="8.1" text-anchor="middle" letter-spacing="0.0">7</text>
<text class="red" x="136.1" y="164.6" font-size="9.4" textLength="14.2" lengthAdjust="spacingAndGlyphs">min</text>
<clipPath id="cA15"><rect x="189.6" y="140.7" width="53.6" height="43.0"/></clipPath>
<g clip-path="url(#cA15)">
<rect x="189.6" y="140.7" width="53.6" height="43.0" fill="#5902ae"/>
<rect x="206.9" y="134.7" width="20.0" height="55.0" fill="#9600aa" opacity="0.40" filter="url(#b3)"/>
<linearGradient id="gA15" x1="0" y1="0" x2="1" y2="0"><stop offset="0" stop-color="#cc1591" stop-opacity="0"/><stop offset="0.22" stop-color="#cc1591" stop-opacity="0.55"/><stop offset="0.42" stop-color="#cc1591"/><stop offset="0.6" stop-color="#cc1591"/><stop offset="0.8" stop-color="#cc1591" stop-opacity="0.5"/><stop offset="1" stop-color="#cc1591" stop-opacity="0"/></linearGradient>
<rect x="207.4" y="140.7" width="19.0" height="43.0" fill="url(#gA15)" opacity="0.95"/>
<ellipse cx="216.9" cy="163.3" rx="9" ry="16.2" fill="#d7198c" opacity="0.90" filter="url(#b3)"/>
<rect x="212.4" y="136.7" width="9.0" height="40.8" fill="#e0227a" opacity="1.00" filter="url(#b2)"/>
<ellipse cx="214.6" cy="156.8" rx="4.5" ry="7.8" fill="#fd6425" opacity="1.00" filter="url(#b2)"/>
<rect x="210.3" y="158.8" width="12.7" height="18.5" fill="#fc5a2d" opacity="1.00" filter="url(#b1_5)"/>
<rect x="189.6" y="140.7" width="53.6" height="43.0" filter="url(#noise)" opacity="0.15"/>
</g>
<rect x="213.10" y="161.60" width="7.10" height="12.90" fill="#ff9c30"/>
<rect x="213.70" y="162.20" width="5.90" height="11.70" fill="none" stroke="#1a0a28" stroke-width="0.8" opacity="0.9"/>
<rect x="212.65" y="161.15" width="8.00" height="13.80" rx="1.2" fill="none" stroke="#d2c6d2" stroke-width="1.0"/>
<polygon points="212.75,168.45 215.80,161.65 218.85,168.45" fill="#ff1414" stroke="#12040c" stroke-width="0.45" stroke-linejoin="round"/>
<polygon points="209.15,167.35 215.95,167.35 212.55,174.45" fill="#1424ff" stroke="#12040c" stroke-width="0.45" stroke-linejoin="round"/>
<rect x="213.20" y="149.80" width="13.10" height="7.50" rx="1.3" fill="#180422" opacity="0.74"/>
<text class="bx" x="214.40" y="156.50" font-size="7.4" textLength="11.10" lengthAdjust="spacingAndGlyphs">Bx1</text>
<text class="red" x="200.5" y="149.7" font-size="8.1" text-anchor="middle" letter-spacing="0.7">7.5</text>
<text class="red" x="193.2" y="164.6" font-size="9.4" textLength="14.2" lengthAdjust="spacingAndGlyphs">min</text>
<clipPath id="cB0"><rect x="295.0" y="4.8" width="53.7" height="42.5"/></clipPath>
<g clip-path="url(#cB0)">
<rect x="295.0" y="4.8" width="53.7" height="42.5" fill="#5902ae"/>
<rect x="295.0" y="4.8" width="53.7" height="42.5" filter="url(#noise)" opacity="0.15"/>
</g>
<rect x="318.10" y="22.90" width="7.80" height="13.20" fill="#4a0894"/>
<rect x="318.70" y="23.50" width="6.60" height="12.00" fill="none" stroke="#1a0a28" stroke-width="0.8" opacity="0.9"/>
<rect x="317.65" y="22.45" width="8.70" height="14.10" rx="1.2" fill="none" stroke="#d2c6d2" stroke-width="1.0"/>
<polygon points="315.65,29.75 318.85,24.35 322.05,29.75" fill="#ff1414" stroke="#12040c" stroke-width="0.45" stroke-linejoin="round"/>
<polygon points="314.85,28.25 322.35,28.25 318.60,35.05" fill="#1424ff" stroke="#12040c" stroke-width="0.45" stroke-linejoin="round"/>
<rect x="319.50" y="11.80" width="12.80" height="6.90" rx="1.3" fill="#180422" opacity="0.74"/>
<text class="bx" x="320.70" y="17.90" font-size="7.4" textLength="10.80" lengthAdjust="spacingAndGlyphs">Bx1</text>
<text class="red" x="303.9" y="13.8" font-size="8.1" text-anchor="middle" letter-spacing="0.0">0</text>
<text class="red" x="296.9" y="28.7" font-size="9.4" textLength="14.2" lengthAdjust="spacingAndGlyphs">min</text>
<clipPath id="cB1"><rect x="350.4" y="4.8" width="53.7" height="42.5"/></clipPath>
<g clip-path="url(#cB1)">
<rect x="350.4" y="4.8" width="53.7" height="42.5" fill="#5902ae"/>
<rect x="367.9" y="-1.2" width="20.0" height="54.5" fill="#7c00a6" opacity="0.05" filter="url(#b3)"/>
<linearGradient id="gB1" x1="0" y1="0" x2="1" y2="0"><stop offset="0" stop-color="#9901a9" stop-opacity="0"/><stop offset="0.22" stop-color="#9901a9" stop-opacity="0.55"/><stop offset="0.42" stop-color="#9901a9"/><stop offset="0.6" stop-color="#9901a9"/><stop offset="0.8" stop-color="#9901a9" stop-opacity="0.5"/><stop offset="1" stop-color="#9901a9" stop-opacity="0"/></linearGradient>
<rect x="368.4" y="4.8" width="19.0" height="42.5" fill="url(#gB1)" opacity="0.11"/>
<ellipse cx="377.9" cy="24.8" rx="9" ry="16.0" fill="#9901a9" opacity="0.20" filter="url(#b3)"/>
<rect x="373.4" y="0.8" width="9.0" height="38.0" fill="#b40b9c" opacity="0.05" filter="url(#b2)"/>
<ellipse cx="375.6" cy="18.4" rx="4.5" ry="7.7" fill="#da1c86" opacity="0.05" filter="url(#b2)"/>
<rect x="371.3" y="20.3" width="12.7" height="18.3" fill="#c71393" opacity="0.30" filter="url(#b1_5)"/>
<rect x="350.4" y="4.8" width="53.7" height="42.5" filter="url(#noise)" opacity="0.15"/>
</g>
<rect x="374.10" y="23.10" width="7.10" height="12.70" fill="#5c0a9e"/>
<rect x="374.70" y="23.70" width="5.90" height="11.50" fill="none" stroke="#1a0a28" stroke-width="0.8" opacity="0.9"/>
<rect x="373.65" y="22.65" width="8.00" height="13.60" rx="1.2" fill="none" stroke="#d2c6d2" stroke-width="1.0"/>
<polygon points="370.55,35.35 373.95,28.65 377.35,35.35" fill="#ff1414" stroke="#12040c" stroke-width="0.45" stroke-linejoin="round"/>
<polygon points="377.95,26.45 385.45,26.45 381.70,33.25" fill="#1424ff" stroke="#12040c" stroke-width="0.45" stroke-linejoin="round"/>
<rect x="374.90" y="11.40" width="13.00" height="7.30" rx="1.3" fill="#180422" opacity="0.74"/>
<text class="bx" x="376.10" y="17.90" font-size="7.4" textLength="11.00" lengthAdjust="spacingAndGlyphs">Bx1</text>
<text class="red" x="359.0" y="13.8" font-size="8.1" text-anchor="middle" letter-spacing="0.7">0.5</text>
<text class="red" x="351.6" y="28.7" font-size="9.4" textLength="14.2" lengthAdjust="spacingAndGlyphs">min</text>
<clipPath id="cB2"><rect x="405.8" y="4.8" width="53.7" height="42.5"/></clipPath>
<g clip-path="url(#cB2)">
<rect x="405.8" y="4.8" width="53.7" height="42.5" fill="#5902ae"/>
<rect x="423.3" y="-1.2" width="20.0" height="54.5" fill="#7e00a7" opacity="0.07" filter="url(#b3)"/>
<linearGradient id="gB2" x1="0" y1="0" x2="1" y2="0"><stop offset="0" stop-color="#9b02a8" stop-opacity="0"/><stop offset="0.22" stop-color="#9b02a8" stop-opacity="0.55"/><stop offset="0.42" stop-color="#9b02a8"/><stop offset="0.6" stop-color="#9b02a8"/><stop offset="0.8" stop-color="#9b02a8" stop-opacity="0.5"/><stop offset="1" stop-color="#9b02a8" stop-opacity="0"/></linearGradient>
<rect x="423.8" y="4.8" width="19.0" height="42.5" fill="url(#gB2)" opacity="0.15"/>
<ellipse cx="433.3" cy="27.4" rx="9" ry="16.3" fill="#9c02a7" opacity="0.27" filter="url(#b3)"/>
<rect x="428.8" y="0.8" width="9.0" height="41.0" fill="#b60c9b" opacity="0.10" filter="url(#b2)"/>
<ellipse cx="430.6" cy="20.9" rx="4.5" ry="7.8" fill="#dd1f81" opacity="0.11" filter="url(#b2)"/>
<rect x="426.3" y="22.8" width="13.4" height="18.8" fill="#cd1591" opacity="0.35" filter="url(#b1_5)"/>
<rect x="405.8" y="4.8" width="53.7" height="42.5" filter="url(#noise)" opacity="0.15"/>
</g>
<rect x="429.10" y="25.60" width="7.80" height="13.20" fill="#7a0eae"/>
<rect x="429.70" y="26.20" width="6.60" height="12.00" fill="none" stroke="#1a0a28" stroke-width="0.8" opacity="0.9"/>
<rect x="428.65" y="25.15" width="8.70" height="14.10" rx="1.2" fill="none" stroke="#d2c6d2" stroke-width="1.0"/>
<polygon points="429.45,32.45 432.65,26.35 435.85,32.45" fill="#ff1414" stroke="#12040c" stroke-width="0.45" stroke-linejoin="round"/>
<polygon points="425.55,31.35 432.65,31.35 429.10,37.35" fill="#1424ff" stroke="#12040c" stroke-width="0.45" stroke-linejoin="round"/>
<rect x="430.80" y="13.80" width="12.80" height="7.10" rx="1.3" fill="#180422" opacity="0.74"/>
<text class="bx" x="432.00" y="20.10" font-size="7.4" textLength="10.80" lengthAdjust="spacingAndGlyphs">Bx1</text>
<text class="red" x="414.7" y="13.8" font-size="8.1" text-anchor="middle" letter-spacing="0.0">1</text>
<text class="red" x="407.7" y="28.7" font-size="9.4" textLength="14.2" lengthAdjust="spacingAndGlyphs">min</text>
<clipPath id="cB3"><rect x="461.1" y="4.8" width="53.7" height="42.5"/></clipPath>
<g clip-path="url(#cB3)">
<rect x="461.1" y="4.8" width="53.7" height="42.5" fill="#5902ae"/>
<rect x="478.4" y="-1.2" width="20.0" height="54.5" fill="#7f00a7" opacity="0.09" filter="url(#b3)"/>
<linearGradient id="gB3" x1="0" y1="0" x2="1" y2="0"><stop offset="0" stop-color="#9e03a6" stop-opacity="0"/><stop offset="0.22" stop-color="#9e03a6" stop-opacity="0.55"/><stop offset="0.42" stop-color="#9e03a6"/><stop offset="0.6" stop-color="#9e03a6"/><stop offset="0.8" stop-color="#9e03a6" stop-opacity="0.5"/><stop offset="1" stop-color="#9e03a6" stop-opacity="0"/></linearGradient>
<rect x="478.9" y="4.8" width="19.0" height="42.5" fill="url(#gB3)" opacity="0.19"/>
<ellipse cx="488.4" cy="27.4" rx="9" ry="16.3" fill="#9f04a6" opacity="0.33" filter="url(#b3)"/>
<rect x="483.9" y="0.8" width="9.0" height="41.0" fill="#b90d9a" opacity="0.14" filter="url(#b2)"/>
<ellipse cx="485.9" cy="20.9" rx="4.5" ry="7.8" fill="#df217b" opacity="0.16" filter="url(#b2)"/>
<rect x="481.6" y="22.8" width="13.1" height="18.8" fill="#d2178e" opacity="0.39" filter="url(#b1_5)"/>
<rect x="461.1" y="4.8" width="53.7" height="42.5" filter="url(#noise)" opacity="0.15"/>
</g>
<rect x="484.40" y="25.60" width="7.50" height="13.20" fill="#980eb2"/>
<rect x="485.00" y="26.20" width="6.30" height="12.00" fill="none" stroke="#1a0a28" stroke-width="0.8" opacity="0.9"/>
<rect x="483.95" y="25.15" width="8.40" height="14.10" rx="1.2" fill="none" stroke="#d2c6d2" stroke-width="1.0"/>
<polygon points="484.05,32.45 486.75,26.75 489.45,32.45" fill="#ff1414" stroke="#12040c" stroke-width="0.45" stroke-linejoin="round"/>
<polygon points="481.25,31.35 488.05,31.35 484.65,37.35" fill="#1424ff" stroke="#12040c" stroke-width="0.45" stroke-linejoin="round"/>
<rect x="486.20" y="13.80" width="12.80" height="7.10" rx="1.3" fill="#180422" opacity="0.74"/>
<text class="bx" x="487.40" y="20.10" font-size="7.4" textLength="10.80" lengthAdjust="spacingAndGlyphs">Bx1</text>
<text class="red" x="472.1" y="13.8" font-size="8.1" text-anchor="middle" letter-spacing="0.7">1.5</text>
<text class="red" x="464.7" y="28.7" font-size="9.4" textLength="14.2" lengthAdjust="spacingAndGlyphs">min</text>
<clipPath id="cB4"><rect x="295.0" y="49.8" width="53.7" height="43.0"/></clipPath>
<g clip-path="url(#cB4)">
<rect x="295.0" y="49.8" width="53.7" height="43.0" fill="#5902ae"/>
<rect x="312.3" y="43.8" width="20.0" height="55.0" fill="#8000a7" opacity="0.10" filter="url(#b3)"/>
<linearGradient id="gB4" x1="0" y1="0" x2="1" y2="0"><stop offset="0" stop-color="#a004a5" stop-opacity="0"/><stop offset="0.22" stop-color="#a004a5" stop-opacity="0.55"/><stop offset="0.42" stop-color="#a004a5"/><stop offset="0.6" stop-color="#a004a5"/><stop offset="0.8" stop-color="#a004a5" stop-opacity="0.5"/><stop offset="1" stop-color="#a004a5" stop-opacity="0"/></linearGradient>
<rect x="312.8" y="49.8" width="19.0" height="43.0" fill="url(#gB4)" opacity="0.23"/>
<ellipse cx="322.3" cy="72.6" rx="9" ry="16.2" fill="#a205a4" opacity="0.40" filter="url(#b3)"/>
<rect x="317.8" y="45.8" width="9.0" height="41.0" fill="#bb0e99" opacity="0.19" filter="url(#b2)"/>
<ellipse cx="319.6" cy="66.2" rx="4.5" ry="7.8" fill="#e22476" opacity="0.21" filter="url(#b2)"/>
<rect x="315.3" y="68.2" width="13.4" height="18.4" fill="#d81a8b" opacity="0.44" filter="url(#b1_5)"/>
<rect x="295.0" y="49.8" width="53.7" height="43.0" filter="url(#noise)" opacity="0.15"/>
</g>
<rect x="318.10" y="71.00" width="7.80" height="12.80" fill="#c010b4"/>
<rect x="318.70" y="71.60" width="6.60" height="11.60" fill="none" stroke="#1a0a28" stroke-width="0.8" opacity="0.9"/>
<rect x="317.65" y="70.55" width="8.70" height="13.70" rx="1.2" fill="none" stroke="#d2c6d2" stroke-width="1.0"/>
<polygon points="317.05,78.15 320.25,72.05 323.45,78.15" fill="#ff1414" stroke="#12040c" stroke-width="0.45" stroke-linejoin="round"/>
<polygon points="314.85,77.05 322.05,77.05 318.45,82.75" fill="#1424ff" stroke="#12040c" stroke-width="0.45" stroke-linejoin="round"/>
<rect x="319.20" y="59.10" width="13.10" height="7.20" rx="1.3" fill="#180422" opacity="0.74"/>
<text class="bx" x="320.40" y="65.50" font-size="7.4" textLength="11.10" lengthAdjust="spacingAndGlyphs">Bx1</text>
<text class="red" x="303.9" y="58.8" font-size="8.1" text-anchor="middle" letter-spacing="0.0">2</text>
<text class="red" x="296.9" y="73.7" font-size="9.4" textLength="14.2" lengthAdjust="spacingAndGlyphs">min</text>
<clipPath id="cB5"><rect x="350.4" y="49.8" width="53.7" height="43.0"/></clipPath>
<g clip-path="url(#cB5)">
<rect x="350.4" y="49.8" width="53.7" height="43.0" fill="#5902ae"/>
<rect x="367.6" y="43.8" width="20.0" height="55.0" fill="#8200a7" opacity="0.12" filter="url(#b3)"/>
<linearGradient id="gB5" x1="0" y1="0" x2="1" y2="0"><stop offset="0" stop-color="#a305a4" stop-opacity="0"/><stop offset="0.22" stop-color="#a305a4" stop-opacity="0.55"/><stop offset="0.42" stop-color="#a305a4"/><stop offset="0.6" stop-color="#a305a4"/><stop offset="0.8" stop-color="#a305a4" stop-opacity="0.5"/><stop offset="1" stop-color="#a305a4" stop-opacity="0"/></linearGradient>
<rect x="368.1" y="49.8" width="19.0" height="43.0" fill="url(#gB5)" opacity="0.27"/>
<ellipse cx="377.6" cy="70.2" rx="9" ry="16.2" fill="#a606a3" opacity="0.47" filter="url(#b3)"/>
<rect x="373.1" y="45.8" width="9.0" height="38.7" fill="#be0f98" opacity="0.24" filter="url(#b2)"/>
<ellipse cx="375.2" cy="63.6" rx="4.5" ry="7.6" fill="#e52770" opacity="0.26" filter="url(#b2)"/>
<rect x="370.9" y="65.5" width="12.8" height="18.8" fill="#db1d85" opacity="0.49" filter="url(#b1_5)"/>
<rect x="350.4" y="49.8" width="53.7" height="43.0" filter="url(#noise)" opacity="0.15"/>
</g>
<rect x="373.70" y="68.30" width="7.20" height="13.20" fill="#d81cac"/>
<rect x="374.30" y="68.90" width="6.00" height="12.00" fill="none" stroke="#1a0a28" stroke-width="0.8" opacity="0.9"/>
<rect x="373.25" y="67.85" width="8.10" height="14.10" rx="1.2" fill="none" stroke="#d2c6d2" stroke-width="1.0"/>
<polygon points="373.75,75.15 376.40,68.35 379.05,75.15" fill="#ff1414" stroke="#12040c" stroke-width="0.45" stroke-linejoin="round"/>
<polygon points="369.85,73.95 377.35,73.95 373.60,79.65" fill="#1424ff" stroke="#12040c" stroke-width="0.45" stroke-linejoin="round"/>
<rect x="374.20" y="56.70" width="13.10" height="6.90" rx="1.3" fill="#180422" opacity="0.74"/>
<text class="bx" x="375.40" y="62.80" font-size="7.4" textLength="11.10" lengthAdjust="spacingAndGlyphs">Bx1</text>
<text class="red" x="359.0" y="58.8" font-size="8.1" text-anchor="middle" letter-spacing="0.7">2.5</text>
<text class="red" x="351.6" y="73.7" font-size="9.4" textLength="14.2" lengthAdjust="spacingAndGlyphs">min</text>
<clipPath id="cB6"><rect x="405.8" y="49.8" width="53.7" height="43.0"/></clipPath>
<g clip-path="url(#cB6)">
<rect x="405.8" y="49.8" width="53.7" height="43.0" fill="#5902ae"/>
<rect x="423.2" y="43.8" width="20.0" height="55.0" fill="#8300a7" opacity="0.14" filter="url(#b3)"/>
<linearGradient id="gB6" x1="0" y1="0" x2="1" y2="0"><stop offset="0" stop-color="#a606a3" stop-opacity="0"/><stop offset="0.22" stop-color="#a606a3" stop-opacity="0.55"/><stop offset="0.42" stop-color="#a606a3"/><stop offset="0.6" stop-color="#a606a3"/><stop offset="0.8" stop-color="#a606a3" stop-opacity="0.5"/><stop offset="1" stop-color="#a606a3" stop-opacity="0"/></linearGradient>
<rect x="423.7" y="49.8" width="19.0" height="43.0" fill="url(#gB6)" opacity="0.31"/>
<ellipse cx="433.2" cy="72.5" rx="9" ry="16.3" fill="#a907a1" opacity="0.53" filter="url(#b3)"/>
<rect x="428.7" y="45.8" width="9.0" height="41.0" fill="#c11096" opacity="0.29" filter="url(#b2)"/>
<ellipse cx="430.6" cy="66.0" rx="4.5" ry="7.9" fill="#e82a6a" opacity="0.32" filter="url(#b2)"/>
<rect x="426.3" y="68.2" width="13.1" height="18.4" fill="#de207e" opacity="0.54" filter="url(#b1_5)"/>
<rect x="405.8" y="49.8" width="53.7" height="43.0" filter="url(#noise)" opacity="0.15"/>
</g>
<rect x="429.10" y="71.00" width="7.50" height="12.80" fill="#e8249c"/>
<rect x="429.70" y="71.60" width="6.30" height="11.60" fill="none" stroke="#1a0a28" stroke-width="0.8" opacity="0.9"/>
<rect x="428.65" y="70.55" width="8.40" height="13.70" rx="1.2" fill="none" stroke="#d2c6d2" stroke-width="1.0"/>
<polygon points="428.35,77.85 431.40,71.35 434.45,77.85" fill="#ff1414" stroke="#12040c" stroke-width="0.45" stroke-linejoin="round"/>
<polygon points="425.55,76.65 432.65,76.65 429.10,84.15" fill="#1424ff" stroke="#12040c" stroke-width="0.45" stroke-linejoin="round"/>
<rect x="430.80" y="58.80" width="12.10" height="7.50" rx="1.3" fill="#180422" opacity="0.74"/>
<text class="bx" x="432.00" y="65.50" font-size="7.4" textLength="10.10" lengthAdjust="spacingAndGlyphs">Bx1</text>
<text class="red" x="414.7" y="58.8" font-size="8.1" text-anchor="middle" letter-spacing="0.0">3</text>
<text class="red" x="407.7" y="73.7" font-size="9.4" textLength="14.2" lengthAdjust="spacingAndGlyphs">min</text>
<clipPath id="cB7"><rect x="461.1" y="49.8" width="53.7" height="43.0"/></clipPath>
<g clip-path="url(#cB7)">
<rect x="461.1" y="49.8" width="53.7" height="43.0" fill="#5902ae"/>
<rect x="478.3" y="43.8" width="20.0" height="55.0" fill="#8400a7" opacity="0.15" filter="url(#b3)"/>
<linearGradient id="gB7" x1="0" y1="0" x2="1" y2="0"><stop offset="0" stop-color="#a807a2" stop-opacity="0"/><stop offset="0.22" stop-color="#a807a2" stop-opacity="0.55"/><stop offset="0.42" stop-color="#a807a2"/><stop offset="0.6" stop-color="#a807a2"/><stop offset="0.8" stop-color="#a807a2" stop-opacity="0.5"/><stop offset="1" stop-color="#a807a2" stop-opacity="0"/></linearGradient>
<rect x="478.8" y="49.8" width="19.0" height="43.0" fill="url(#gB7)" opacity="0.35"/>
<ellipse cx="488.3" cy="72.5" rx="9" ry="16.3" fill="#ac08a0" opacity="0.60" filter="url(#b3)"/>
<rect x="483.8" y="45.8" width="9.0" height="41.0" fill="#c31195" opacity="0.34" filter="url(#b2)"/>
<ellipse cx="485.6" cy="66.0" rx="4.5" ry="7.9" fill="#eb2d65" opacity="0.37" filter="url(#b2)"/>
<rect x="481.3" y="68.2" width="13.4" height="18.4" fill="#e12378" opacity="0.59" filter="url(#b1_5)"/>
<rect x="461.1" y="49.8" width="53.7" height="43.0" filter="url(#noise)" opacity="0.15"/>
</g>
<rect x="484.10" y="71.00" width="7.80" height="12.80" fill="#ee2e8a"/>
<rect x="484.70" y="71.60" width="6.60" height="11.60" fill="none" stroke="#1a0a28" stroke-width="0.8" opacity="0.9"/>
<rect x="483.65" y="70.55" width="8.70" height="13.70" rx="1.2" fill="none" stroke="#d2c6d2" stroke-width="1.0"/>
<polygon points="484.05,77.85 486.95,71.75 489.85,77.85" fill="#ff1414" stroke="#12040c" stroke-width="0.45" stroke-linejoin="round"/>
<polygon points="480.85,77.05 488.05,77.05 484.45,83.05" fill="#1424ff" stroke="#12040c" stroke-width="0.45" stroke-linejoin="round"/>
<rect x="484.90" y="58.80" width="13.30" height="7.50" rx="1.3" fill="#180422" opacity="0.74"/>
<text class="bx" x="486.10" y="65.50" font-size="7.4" textLength="11.30" lengthAdjust="spacingAndGlyphs">Bx1</text>
<text class="red" x="472.1" y="58.8" font-size="8.1" text-anchor="middle" letter-spacing="0.7">3.5</text>
<text class="red" x="464.7" y="73.7" font-size="9.4" textLength="14.2" lengthAdjust="spacingAndGlyphs">min</text>
<clipPath id="cB8"><rect x="295.0" y="95.2" width="53.7" height="43.3"/></clipPath>
<g clip-path="url(#cB8)">
<rect x="295.0" y="95.2" width="53.7" height="43.3" fill="#5902ae"/>
<rect x="312.3" y="89.2" width="20.0" height="55.3" fill="#8500a8" opacity="0.17" filter="url(#b3)"/>
<linearGradient id="gB8" x1="0" y1="0" x2="1" y2="0"><stop offset="0" stop-color="#ab08a0" stop-opacity="0"/><stop offset="0.22" stop-color="#ab08a0" stop-opacity="0.55"/><stop offset="0.42" stop-color="#ab08a0"/><stop offset="0.6" stop-color="#ab08a0"/><stop offset="0.8" stop-color="#ab08a0" stop-opacity="0.5"/><stop offset="1" stop-color="#ab08a0" stop-opacity="0"/></linearGradient>
<rect x="312.8" y="95.2" width="19.0" height="43.3" fill="url(#gB8)" opacity="0.39"/>
<ellipse cx="322.3" cy="117.6" rx="9" ry="16.5" fill="#af0a9e" opacity="0.66" filter="url(#b3)"/>
<rect x="317.8" y="91.2" width="9.0" height="40.9" fill="#c61294" opacity="0.38" filter="url(#b2)"/>
<ellipse cx="319.6" cy="111.2" rx="4.5" ry="8.1" fill="#ed2f5f" opacity="0.42" filter="url(#b2)"/>
<rect x="315.3" y="113.5" width="13.4" height="18.4" fill="#e42672" opacity="0.63" filter="url(#b1_5)"/>
<rect x="295.0" y="95.2" width="53.7" height="43.3" filter="url(#noise)" opacity="0.15"/>
</g>
<rect x="318.10" y="116.30" width="7.80" height="12.80" fill="#f04470"/>
<rect x="318.70" y="116.90" width="6.60" height="11.60" fill="none" stroke="#1a0a28" stroke-width="0.8" opacity="0.9"/>
<rect x="317.65" y="115.85" width="8.70" height="13.70" rx="1.2" fill="none" stroke="#d2c6d2" stroke-width="1.0"/>
<polygon points="318.05,123.05 320.95,116.35 323.85,123.05" fill="#ff1414" stroke="#12040c" stroke-width="0.45" stroke-linejoin="round"/>
<polygon points="314.85,122.35 322.05,122.35 318.45,128.35" fill="#1424ff" stroke="#12040c" stroke-width="0.45" stroke-linejoin="round"/>
<rect x="318.60" y="103.80" width="13.70" height="7.40" rx="1.3" fill="#180422" opacity="0.74"/>
<text class="bx" x="319.80" y="110.40" font-size="7.4" textLength="11.70" lengthAdjust="spacingAndGlyphs">Bx1</text>
<text class="red" x="303.9" y="104.2" font-size="8.1" text-anchor="middle" letter-spacing="0.0">4</text>
<text class="red" x="296.9" y="119.1" font-size="9.4" textLength="14.2" lengthAdjust="spacingAndGlyphs">min</text>
<clipPath id="cB9"><rect x="350.4" y="95.2" width="53.7" height="43.3"/></clipPath>
<g clip-path="url(#cB9)">
<rect x="350.4" y="95.2" width="53.7" height="43.3" fill="#5902ae"/>
<rect x="367.8" y="89.2" width="20.0" height="55.3" fill="#8700a8" opacity="0.18" filter="url(#b3)"/>
<linearGradient id="gB9" x1="0" y1="0" x2="1" y2="0"><stop offset="0" stop-color="#ad099f" stop-opacity="0"/><stop offset="0.22" stop-color="#ad099f" stop-opacity="0.55"/><stop offset="0.42" stop-color="#ad099f"/><stop offset="0.6" stop-color="#ad099f"/><stop offset="0.8" stop-color="#ad099f" stop-opacity="0.5"/><stop offset="1" stop-color="#ad099f" stop-opacity="0"/></linearGradient>
<rect x="368.2" y="95.2" width="19.0" height="43.3" fill="url(#gB9)" opacity="0.43"/>
<ellipse cx="377.8" cy="117.5" rx="9" ry="16.4" fill="#b20b9d" opacity="0.73" filter="url(#b3)"/>
<rect x="373.2" y="91.2" width="9.0" height="40.6" fill="#c81393" opacity="0.43" filter="url(#b2)"/>
<ellipse cx="375.2" cy="111.2" rx="4.5" ry="8.1" fill="#f0325a" opacity="0.48" filter="url(#b2)"/>
<rect x="370.9" y="113.5" width="13.1" height="18.1" fill="#e7296c" opacity="0.68" filter="url(#b1_5)"/>
<rect x="350.4" y="95.2" width="53.7" height="43.3" filter="url(#noise)" opacity="0.15"/>
</g>
<rect x="373.70" y="116.30" width="7.50" height="12.50" fill="#f24c66"/>
<rect x="374.30" y="116.90" width="6.30" height="11.30" fill="none" stroke="#1a0a28" stroke-width="0.8" opacity="0.9"/>
<rect x="373.25" y="115.85" width="8.40" height="13.40" rx="1.2" fill="none" stroke="#d2c6d2" stroke-width="1.0"/>
<polygon points="372.35,123.45 375.90,117.05 379.45,123.45" fill="#ff1414" stroke="#12040c" stroke-width="0.45" stroke-linejoin="round"/>
<polygon points="370.55,122.35 377.35,122.35 373.95,128.05" fill="#1424ff" stroke="#12040c" stroke-width="0.45" stroke-linejoin="round"/>
<rect x="373.60" y="103.80" width="13.70" height="7.40" rx="1.3" fill="#180422" opacity="0.74"/>
<text class="bx" x="374.80" y="110.40" font-size="7.4" textLength="11.70" lengthAdjust="spacingAndGlyphs">Bx1</text>
<text class="red" x="359.0" y="104.2" font-size="8.1" text-anchor="middle" letter-spacing="0.7">4.5</text>
<text class="red" x="351.6" y="119.1" font-size="9.4" textLength="14.2" lengthAdjust="spacingAndGlyphs">min</text>
<clipPath id="cB10"><rect x="405.8" y="95.2" width="53.7" height="43.3"/></clipPath>
<g clip-path="url(#cB10)">
<rect x="405.8" y="95.2" width="53.7" height="43.3" fill="#5902ae"/>
<rect x="423.2" y="89.2" width="20.0" height="55.3" fill="#8800a8" opacity="0.20" filter="url(#b3)"/>
<linearGradient id="gB10" x1="0" y1="0" x2="1" y2="0"><stop offset="0" stop-color="#b00a9e" stop-opacity="0"/><stop offset="0.22" stop-color="#b00a9e" stop-opacity="0.55"/><stop offset="0.42" stop-color="#b00a9e"/><stop offset="0.6" stop-color="#b00a9e"/><stop offset="0.8" stop-color="#b00a9e" stop-opacity="0.5"/><stop offset="1" stop-color="#b00a9e" stop-opacity="0"/></linearGradient>
<rect x="423.7" y="95.2" width="19.0" height="43.3" fill="url(#gB10)" opacity="0.47"/>
<ellipse cx="433.2" cy="117.6" rx="9" ry="16.5" fill="#b50c9c" opacity="0.80" filter="url(#b3)"/>
<rect x="428.7" y="91.2" width="9.0" height="40.9" fill="#cb1492" opacity="0.48" filter="url(#b2)"/>
<ellipse cx="430.6" cy="111.2" rx="4.5" ry="8.1" fill="#f33554" opacity="0.53" filter="url(#b2)"/>
<rect x="426.3" y="113.5" width="13.1" height="18.4" fill="#ea2c66" opacity="0.73" filter="url(#b1_5)"/>
<rect x="405.8" y="95.2" width="53.7" height="43.3" filter="url(#noise)" opacity="0.15"/>
</g>
<rect x="429.10" y="116.30" width="7.50" height="12.80" fill="#f4565e"/>
<rect x="429.70" y="116.90" width="6.30" height="11.60" fill="none" stroke="#1a0a28" stroke-width="0.8" opacity="0.9"/>
<rect x="428.65" y="115.85" width="8.40" height="13.70" rx="1.2" fill="none" stroke="#d2c6d2" stroke-width="1.0"/>
<polygon points="429.05,123.05 431.95,115.95 434.85,123.05" fill="#ff1414" stroke="#12040c" stroke-width="0.45" stroke-linejoin="round"/>
<polygon points="425.55,121.95 432.65,121.95 429.10,128.35" fill="#1424ff" stroke="#12040c" stroke-width="0.45" stroke-linejoin="round"/>
<rect x="429.50" y="103.80" width="13.70" height="7.80" rx="1.3" fill="#180422" opacity="0.74"/>
<text class="bx" x="430.70" y="110.80" font-size="7.4" textLength="11.70" lengthAdjust="spacingAndGlyphs">Bx1</text>
<text class="red" x="414.7" y="104.2" font-size="8.1" text-anchor="middle" letter-spacing="0.0">5</text>
<text class="red" x="407.7" y="119.1" font-size="9.4" textLength="14.2" lengthAdjust="spacingAndGlyphs">min</text>
<clipPath id="cB11"><rect x="461.1" y="95.2" width="53.7" height="43.3"/></clipPath>
<g clip-path="url(#cB11)">
<rect x="461.1" y="95.2" width="53.7" height="43.3" fill="#5902ae"/>
<rect x="478.4" y="89.2" width="20.0" height="55.3" fill="#8900a8" opacity="0.22" filter="url(#b3)"/>
<linearGradient id="gB11" x1="0" y1="0" x2="1" y2="0"><stop offset="0" stop-color="#b30b9d" stop-opacity="0"/><stop offset="0.22" stop-color="#b30b9d" stop-opacity="0.55"/><stop offset="0.42" stop-color="#b30b9d"/><stop offset="0.6" stop-color="#b30b9d"/><stop offset="0.8" stop-color="#b30b9d" stop-opacity="0.5"/><stop offset="1" stop-color="#b30b9d" stop-opacity="0"/></linearGradient>
<rect x="478.9" y="95.2" width="19.0" height="43.3" fill="url(#gB11)" opacity="0.51"/>
<ellipse cx="488.4" cy="117.8" rx="9" ry="16.3" fill="#b80d9a" opacity="0.86" filter="url(#b3)"/>
<rect x="483.9" y="91.2" width="9.0" height="40.9" fill="#ce1590" opacity="0.53" filter="url(#b2)"/>
<ellipse cx="485.9" cy="111.3" rx="4.5" ry="7.9" fill="#f6384e" opacity="0.58" filter="url(#b2)"/>
<rect x="481.6" y="113.5" width="13.1" height="18.4" fill="#ed2f60" opacity="0.78" filter="url(#b1_5)"/>
<rect x="461.1" y="95.2" width="53.7" height="43.3" filter="url(#noise)" opacity="0.15"/>
</g>
<rect x="484.40" y="116.30" width="7.50" height="12.80" fill="#f65e58"/>
<rect x="485.00" y="116.90" width="6.30" height="11.60" fill="none" stroke="#1a0a28" stroke-width="0.8" opacity="0.9"/>
<rect x="483.95" y="115.85" width="8.40" height="13.70" rx="1.2" fill="none" stroke="#d2c6d2" stroke-width="1.0"/>
<polygon points="484.05,123.05 487.10,115.95 490.15,123.05" fill="#ff1414" stroke="#12040c" stroke-width="0.45" stroke-linejoin="round"/>
<polygon points="480.85,121.95 488.05,121.95 484.45,128.35" fill="#1424ff" stroke="#12040c" stroke-width="0.45" stroke-linejoin="round"/>
<rect x="484.90" y="104.10" width="13.70" height="7.50" rx="1.3" fill="#180422" opacity="0.74"/>
<text class="bx" x="486.10" y="110.80" font-size="7.4" textLength="11.70" lengthAdjust="spacingAndGlyphs">Bx1</text>
<text class="red" x="472.1" y="104.2" font-size="8.1" text-anchor="middle" letter-spacing="0.7">5.5</text>
<text class="red" x="464.7" y="119.1" font-size="9.4" textLength="14.2" lengthAdjust="spacingAndGlyphs">min</text>
<clipPath id="cB12"><rect x="295.0" y="140.7" width="53.7" height="43.0"/></clipPath>
<g clip-path="url(#cB12)">
<rect x="295.0" y="140.7" width="53.7" height="43.0" fill="#5902ae"/>
<rect x="312.3" y="134.7" width="20.0" height="55.0" fill="#8b00a8" opacity="0.23" filter="url(#b3)"/>
<linearGradient id="gB12" x1="0" y1="0" x2="1" y2="0"><stop offset="0" stop-color="#b50c9c" stop-opacity="0"/><stop offset="0.22" stop-color="#b50c9c" stop-opacity="0.55"/><stop offset="0.42" stop-color="#b50c9c"/><stop offset="0.6" stop-color="#b50c9c"/><stop offset="0.8" stop-color="#b50c9c" stop-opacity="0.5"/><stop offset="1" stop-color="#b50c9c" stop-opacity="0"/></linearGradient>
<rect x="312.8" y="140.7" width="19.0" height="43.0" fill="url(#gB12)" opacity="0.55"/>
<ellipse cx="322.3" cy="163.3" rx="9" ry="16.5" fill="#bb0e99" opacity="0.90" filter="url(#b3)"/>
<rect x="317.8" y="136.7" width="9.0" height="41.1" fill="#d0168f" opacity="0.58" filter="url(#b2)"/>
<ellipse cx="319.6" cy="156.7" rx="4.5" ry="7.8" fill="#f93b49" opacity="0.63" filter="url(#b2)"/>
<rect x="315.3" y="158.7" width="13.4" height="18.9" fill="#f03259" opacity="0.83" filter="url(#b1_5)"/>
<rect x="295.0" y="140.7" width="53.7" height="43.0" filter="url(#noise)" opacity="0.15"/>
</g>
<rect x="318.10" y="161.50" width="7.80" height="13.30" fill="#f86a52"/>
<rect x="318.70" y="162.10" width="6.60" height="12.10" fill="none" stroke="#1a0a28" stroke-width="0.8" opacity="0.9"/>
<rect x="317.65" y="161.05" width="8.70" height="14.20" rx="1.2" fill="none" stroke="#d2c6d2" stroke-width="1.0"/>
<polygon points="317.05,168.85 320.45,162.05 323.85,168.85" fill="#ff1414" stroke="#12040c" stroke-width="0.45" stroke-linejoin="round"/>
<polygon points="315.25,167.65 322.35,167.65 318.80,174.85" fill="#1424ff" stroke="#12040c" stroke-width="0.45" stroke-linejoin="round"/>
<rect x="318.60" y="149.50" width="13.70" height="7.50" rx="1.3" fill="#180422" opacity="0.74"/>
<text class="bx" x="319.80" y="156.20" font-size="7.4" textLength="11.70" lengthAdjust="spacingAndGlyphs">Bx1</text>
<text class="red" x="303.9" y="149.7" font-size="8.1" text-anchor="middle" letter-spacing="0.0">6</text>
<text class="red" x="296.9" y="164.6" font-size="9.4" textLength="14.2" lengthAdjust="spacingAndGlyphs">min</text>
<clipPath id="cB13"><rect x="350.4" y="140.7" width="53.7" height="43.0"/></clipPath>
<g clip-path="url(#cB13)">
<rect x="350.4" y="140.7" width="53.7" height="43.0" fill="#5902ae"/>
<rect x="367.6" y="134.7" width="20.0" height="55.0" fill="#8c00a9" opacity="0.25" filter="url(#b3)"/>
<linearGradient id="gB13" x1="0" y1="0" x2="1" y2="0"><stop offset="0" stop-color="#b80d9a" stop-opacity="0"/><stop offset="0.22" stop-color="#b80d9a" stop-opacity="0.55"/><stop offset="0.42" stop-color="#b80d9a"/><stop offset="0.6" stop-color="#b80d9a"/><stop offset="0.8" stop-color="#b80d9a" stop-opacity="0.5"/><stop offset="1" stop-color="#b80d9a" stop-opacity="0"/></linearGradient>
<rect x="368.1" y="140.7" width="19.0" height="43.0" fill="url(#gB13)" opacity="0.59"/>
<ellipse cx="377.6" cy="163.2" rx="9" ry="16.3" fill="#bf1097" opacity="0.90" filter="url(#b3)"/>
<rect x="373.1" y="136.7" width="9.0" height="40.8" fill="#d3178e" opacity="0.62" filter="url(#b2)"/>
<ellipse cx="375.2" cy="156.6" rx="4.5" ry="7.8" fill="#fa3e44" opacity="0.69" filter="url(#b2)"/>
<rect x="370.9" y="158.5" width="12.8" height="18.8" fill="#f33553" opacity="0.87" filter="url(#b1_5)"/>
<rect x="350.4" y="140.7" width="53.7" height="43.0" filter="url(#noise)" opacity="0.15"/>
</g>
<rect x="373.70" y="161.30" width="7.20" height="13.20" fill="#fa704c"/>
<rect x="374.30" y="161.90" width="6.00" height="12.00" fill="none" stroke="#1a0a28" stroke-width="0.8" opacity="0.9"/>
<rect x="373.25" y="160.85" width="8.10" height="14.10" rx="1.2" fill="none" stroke="#d2c6d2" stroke-width="1.0"/>
<polygon points="372.65,168.85 376.05,161.65 379.45,168.85" fill="#ff1414" stroke="#12040c" stroke-width="0.45" stroke-linejoin="round"/>
<polygon points="370.15,167.65 377.35,167.65 373.75,174.85" fill="#1424ff" stroke="#12040c" stroke-width="0.45" stroke-linejoin="round"/>
<rect x="373.60" y="149.50" width="13.70" height="7.50" rx="1.3" fill="#180422" opacity="0.74"/>
<text class="bx" x="374.80" y="156.20" font-size="7.4" textLength="11.70" lengthAdjust="spacingAndGlyphs">Bx1</text>
<text class="red" x="359.0" y="149.7" font-size="8.1" text-anchor="middle" letter-spacing="0.7">6.5</text>
<text class="red" x="351.6" y="164.6" font-size="9.4" textLength="14.2" lengthAdjust="spacingAndGlyphs">min</text>
<clipPath id="cB14"><rect x="405.8" y="140.7" width="53.7" height="43.0"/></clipPath>
<g clip-path="url(#cB14)">
<rect x="405.8" y="140.7" width="53.7" height="43.0" fill="#5902ae"/>
<rect x="423.3" y="134.7" width="20.0" height="55.0" fill="#8d00a9" opacity="0.27" filter="url(#b3)"/>
<linearGradient id="gB14" x1="0" y1="0" x2="1" y2="0"><stop offset="0" stop-color="#ba0e99" stop-opacity="0"/><stop offset="0.22" stop-color="#ba0e99" stop-opacity="0.55"/><stop offset="0.42" stop-color="#ba0e99"/><stop offset="0.6" stop-color="#ba0e99"/><stop offset="0.8" stop-color="#ba0e99" stop-opacity="0.5"/><stop offset="1" stop-color="#ba0e99" stop-opacity="0"/></linearGradient>
<rect x="423.8" y="140.7" width="19.0" height="43.0" fill="url(#gB14)" opacity="0.63"/>
<ellipse cx="433.3" cy="163.3" rx="9" ry="16.5" fill="#c21196" opacity="0.90" filter="url(#b3)"/>
<rect x="428.8" y="136.7" width="9.0" height="41.1" fill="#d5188d" opacity="0.67" filter="url(#b2)"/>
<ellipse cx="430.6" cy="156.7" rx="4.5" ry="7.8" fill="#fb4340" opacity="0.74" filter="url(#b2)"/>
<rect x="426.3" y="158.7" width="13.4" height="18.9" fill="#f6384d" opacity="0.92" filter="url(#b1_5)"/>
<rect x="405.8" y="140.7" width="53.7" height="43.0" filter="url(#noise)" opacity="0.15"/>
</g>
<rect x="429.10" y="161.50" width="7.80" height="13.30" fill="#fc7648"/>
<rect x="429.70" y="162.10" width="6.60" height="12.10" fill="none" stroke="#1a0a28" stroke-width="0.8" opacity="0.9"/>
<rect x="428.65" y="161.05" width="8.70" height="14.20" rx="1.2" fill="none" stroke="#d2c6d2" stroke-width="1.0"/>
<polygon points="428.35,168.45 431.40,162.05 434.45,168.45" fill="#ff1414" stroke="#12040c" stroke-width="0.45" stroke-linejoin="round"/>
<polygon points="425.85,167.35 432.65,167.35 429.25,174.45" fill="#1424ff" stroke="#12040c" stroke-width="0.45" stroke-linejoin="round"/>
<rect x="429.50" y="149.50" width="13.70" height="7.10" rx="1.3" fill="#180422" opacity="0.74"/>
<text class="bx" x="430.70" y="155.80" font-size="7.4" textLength="11.70" lengthAdjust="spacingAndGlyphs">Bx1</text>
<text class="red" x="414.7" y="149.7" font-size="8.1" text-anchor="middle" letter-spacing="0.0">7</text>
<text class="red" x="407.7" y="164.6" font-size="9.4" textLength="14.2" lengthAdjust="spacingAndGlyphs">min</text>
<clipPath id="cB15"><rect x="461.1" y="140.7" width="53.7" height="43.0"/></clipPath>
<g clip-path="url(#cB15)">
<rect x="461.1" y="140.7" width="53.7" height="43.0" fill="#5902ae"/>
<rect x="478.4" y="134.7" width="20.0" height="55.0" fill="#8e00a9" opacity="0.28" filter="url(#b3)"/>
<linearGradient id="gB15" x1="0" y1="0" x2="1" y2="0"><stop offset="0" stop-color="#bd0f98" stop-opacity="0"/><stop offset="0.22" stop-color="#bd0f98" stop-opacity="0.55"/><stop offset="0.42" stop-color="#bd0f98"/><stop offset="0.6" stop-color="#bd0f98"/><stop offset="0.8" stop-color="#bd0f98" stop-opacity="0.5"/><stop offset="1" stop-color="#bd0f98" stop-opacity="0"/></linearGradient>
<rect x="478.9" y="140.7" width="19.0" height="43.0" fill="url(#gB15)" opacity="0.67"/>
<ellipse cx="488.4" cy="166.8" rx="9" ry="16.1" fill="#c51294" opacity="0.90" filter="url(#b3)"/>
<rect x="483.9" y="136.7" width="9.0" height="44.2" fill="#d81a8b" opacity="0.72" filter="url(#b2)"/>
<ellipse cx="485.9" cy="160.6" rx="4.5" ry="7.9" fill="#fb483c" opacity="0.79" filter="url(#b2)"/>
<rect x="481.6" y="162.6" width="13.1" height="18.1" fill="#fa3c47" opacity="0.97" filter="url(#b1_5)"/>
<rect x="461.1" y="140.7" width="53.7" height="43.0" filter="url(#noise)" opacity="0.15"/>
</g>
<rect x="484.40" y="165.40" width="7.50" height="12.50" fill="#ff8044"/>
<rect x="485.00" y="166.00" width="6.30" height="11.30" fill="none" stroke="#1a0a28" stroke-width="0.8" opacity="0.9"/>
<rect x="483.95" y="164.95" width="8.40" height="13.40" rx="1.2" fill="none" stroke="#d2c6d2" stroke-width="1.0"/>
<polygon points="483.75,172.55 487.15,165.75 490.55,172.55" fill="#ff1414" stroke="#12040c" stroke-width="0.45" stroke-linejoin="round"/>
<polygon points="481.25,171.45 488.35,171.45 484.80,177.55" fill="#1424ff" stroke="#12040c" stroke-width="0.45" stroke-linejoin="round"/>
<rect x="485.30" y="153.40" width="13.70" height="7.10" rx="1.3" fill="#180422" opacity="0.74"/>
<text class="bx" x="486.50" y="159.70" font-size="7.4" textLength="11.70" lengthAdjust="spacingAndGlyphs">Bx1</text>
<text class="red" x="472.1" y="149.7" font-size="8.1" text-anchor="middle" letter-spacing="0.7">7.5</text>
<text class="red" x="464.7" y="164.6" font-size="9.4" textLength="14.2" lengthAdjust="spacingAndGlyphs">min</text>
<clipPath id="cC0"><rect x="23.0" y="198.6" width="53.0" height="42.9"/></clipPath>
<g clip-path="url(#cC0)">
<rect x="23.0" y="198.6" width="53.0" height="42.9" fill="#2c0592"/>
<rect x="61.0" y="195.6" width="6" height="48.9" fill="#26047a" opacity="0.15" filter="url(#b1_5)"/>
<path d="M40.50,204.60 C40.50,200.40 44.70,198.60 51.00,198.60 C57.30,198.60 61.50,200.40 61.50,204.60 C61.50,222.56 58.25,239.71 56.50,244.50 C53.75,246.00 48.25,246.00 45.50,244.50 C43.75,239.71 40.50,222.56 40.50,204.60 Z" fill="#6b00a4" opacity="0.30" filter="url(#b3)"/>
<path d="M44.00,206.60 C44.00,203.10 46.80,201.60 51.00,201.60 C55.20,201.60 58.00,203.10 58.00,206.60 C58.00,222.75 55.40,238.19 54.00,242.50 C52.50,244.00 49.50,244.00 48.00,242.50 C46.60,238.19 44.00,222.75 44.00,206.60 Z" fill="#340a98" opacity="0.40" filter="url(#b1_5)"/>
<path d="M45.40,210.10 C45.40,206.60 47.64,205.10 51.00,205.10 C54.36,205.10 56.60,206.60 56.60,210.10 C56.60,221.53 54.13,232.45 52.80,235.50 C51.90,237.00 50.10,237.00 49.20,235.50 C47.87,232.45 45.40,221.53 45.40,210.10 Z" fill="#3a0a9c" opacity="0.40" filter="url(#b1_5)"/>
</g>
<text class="cred" x="31.6" y="207.1" font-size="7.6" text-anchor="middle">0</text>
<text class="cred" x="26.3" y="220.9" font-size="7.2" textLength="12.5" lengthAdjust="spacingAndGlyphs">min</text>
<clipPath id="cC1"><rect x="78.2" y="198.6" width="53.0" height="42.9"/></clipPath>
<g clip-path="url(#cC1)">
<rect x="78.2" y="198.6" width="53.0" height="42.9" fill="#2c0592"/>
<rect x="116.2" y="195.6" width="6" height="48.9" fill="#26047a" opacity="0.15" filter="url(#b1_5)"/>
<path d="M95.70,204.60 C95.70,200.40 99.90,198.60 106.20,198.60 C112.50,198.60 116.70,200.40 116.70,204.60 C116.70,222.56 113.45,239.71 111.70,244.50 C108.95,246.00 103.45,246.00 100.70,244.50 C98.95,239.71 95.70,222.56 95.70,204.60 Z" fill="#7400a5" opacity="0.40" filter="url(#b3)"/>
<path d="M99.20,206.60 C99.20,203.10 102.00,201.60 106.20,201.60 C110.40,201.60 113.20,203.10 113.20,206.60 C113.20,222.75 110.60,238.19 109.20,242.50 C107.70,244.00 104.70,244.00 103.20,242.50 C101.80,238.19 99.20,222.75 99.20,206.60 Z" fill="#6010b6" opacity="0.60" filter="url(#b1_5)"/>
<path d="M100.60,210.10 C100.60,206.60 102.84,205.10 106.20,205.10 C109.56,205.10 111.80,206.60 111.80,210.10 C111.80,221.53 109.33,232.45 108.00,235.50 C107.10,237.00 105.30,237.00 104.40,235.50 C103.07,232.45 100.60,221.53 100.60,210.10 Z" fill="#7410bc" opacity="0.60" filter="url(#b1_5)"/>
<path d="M102.50,212.10 C102.50,208.60 103.98,207.10 106.20,207.10 C108.42,207.10 109.90,208.60 109.90,212.10 C109.90,219.48 108.28,226.53 107.40,228.50 C106.80,230.00 105.60,230.00 105.00,228.50 C104.12,226.53 102.50,219.48 102.50,212.10 Z" fill="#8412c4" opacity="0.70" filter="url(#b1_5)"/>
</g>
<text class="cred" x="87.2" y="207.1" font-size="7.6" text-anchor="middle">0.5</text>
<text class="cred" x="81.9" y="220.9" font-size="7.2" textLength="12.5" lengthAdjust="spacingAndGlyphs">min</text>
<clipPath id="cC2"><rect x="133.1" y="198.6" width="53.0" height="42.9"/></clipPath>
<g clip-path="url(#cC2)">
<rect x="133.1" y="198.6" width="53.0" height="42.9" fill="#2c0592"/>
<rect x="171.1" y="195.6" width="6" height="48.9" fill="#26047a" opacity="0.15" filter="url(#b1_5)"/>
<path d="M150.60,204.60 C150.60,200.40 154.80,198.60 161.10,198.60 C167.40,198.60 171.60,200.40 171.60,204.60 C171.60,222.56 168.35,239.71 166.60,244.50 C163.85,246.00 158.35,246.00 155.60,244.50 C153.85,239.71 150.60,222.56 150.60,204.60 Z" fill="#7c00a6" opacity="0.50" filter="url(#b3)"/>
<path d="M154.10,206.60 C154.10,203.10 156.90,201.60 161.10,201.60 C165.30,201.60 168.10,203.10 168.10,206.60 C168.10,222.75 165.50,238.19 164.10,242.50 C162.60,244.00 159.60,244.00 158.10,242.50 C156.70,238.19 154.10,222.75 154.10,206.60 Z" fill="#880fbc" opacity="0.80" filter="url(#b1_5)"/>
<path d="M155.50,210.10 C155.50,206.60 157.74,205.10 161.10,205.10 C164.46,205.10 166.70,206.60 166.70,210.10 C166.70,221.53 164.23,232.45 162.90,235.50 C162.00,237.00 160.20,237.00 159.30,235.50 C157.97,232.45 155.50,221.53 155.50,210.10 Z" fill="#a012bc" opacity="0.80" filter="url(#b1_5)"/>
<path d="M157.40,212.10 C157.40,208.60 158.88,207.10 161.10,207.10 C163.32,207.10 164.80,208.60 164.80,212.10 C164.80,219.48 163.17,226.53 162.30,228.50 C161.70,230.00 160.50,230.00 159.90,228.50 C159.03,226.53 157.40,219.48 157.40,212.10 Z" fill="#b014bc" opacity="0.90" filter="url(#b1_5)"/>
</g>
<text class="cred" x="141.2" y="207.1" font-size="7.6" text-anchor="middle">1</text>
<text class="cred" x="135.9" y="220.9" font-size="7.2" textLength="12.5" lengthAdjust="spacingAndGlyphs">min</text>
<clipPath id="cC3"><rect x="188.4" y="198.6" width="53.0" height="42.9"/></clipPath>
<g clip-path="url(#cC3)">
<rect x="188.4" y="198.6" width="53.0" height="42.9" fill="#2c0592"/>
<rect x="226.4" y="195.6" width="6" height="48.9" fill="#26047a" opacity="0.15" filter="url(#b1_5)"/>
<path d="M205.90,204.60 C205.90,200.40 210.10,198.60 216.40,198.60 C222.70,198.60 226.90,200.40 226.90,204.60 C226.90,222.56 223.65,239.71 221.90,244.50 C219.15,246.00 213.65,246.00 210.90,244.50 C209.15,239.71 205.90,222.56 205.90,204.60 Z" fill="#8500a8" opacity="0.60" filter="url(#b3)"/>
<path d="M209.40,206.60 C209.40,203.10 212.20,201.60 216.40,201.60 C220.60,201.60 223.40,203.10 223.40,206.60 C223.40,222.75 220.80,238.19 219.40,242.50 C217.90,244.00 214.90,244.00 213.40,242.50 C212.00,238.19 209.40,222.75 209.40,206.60 Z" fill="#a614b8" opacity="1.00" filter="url(#b1_5)"/>
<path d="M210.80,210.10 C210.80,206.60 213.04,205.10 216.40,205.10 C219.76,205.10 222.00,206.60 222.00,210.10 C222.00,221.53 219.53,232.45 218.20,235.50 C217.30,237.00 215.50,237.00 214.60,235.50 C213.27,232.45 210.80,221.53 210.80,210.10 Z" fill="#c41cb4" opacity="1.00" filter="url(#b1_5)"/>
<path d="M212.70,212.10 C212.70,208.60 214.18,207.10 216.40,207.10 C218.62,207.10 220.10,208.60 220.10,212.10 C220.10,219.48 218.47,226.53 217.60,228.50 C217.00,230.00 215.80,230.00 215.20,228.50 C214.33,226.53 212.70,219.48 212.70,212.10 Z" fill="#d420ac" opacity="1.00" filter="url(#b1_5)"/>
</g>
<text class="cred" x="196.2" y="207.1" font-size="7.6" text-anchor="middle">1.5</text>
<text class="cred" x="190.9" y="220.9" font-size="7.2" textLength="12.5" lengthAdjust="spacingAndGlyphs">min</text>
<clipPath id="cC4"><rect x="23.0" y="244.2" width="53.0" height="43.3"/></clipPath>
<g clip-path="url(#cC4)">
<rect x="23.0" y="244.2" width="53.0" height="43.3" fill="#4006a0"/>
<rect x="61.0" y="241.2" width="6" height="49.3" fill="#26047a" opacity="0.30" filter="url(#b1_5)"/>
<path d="M40.50,249.20 C40.50,245.00 44.70,243.20 51.00,243.20 C57.30,243.20 61.50,245.00 61.50,249.20 C61.50,267.78 58.25,285.54 56.50,290.50 C53.75,292.00 48.25,292.00 45.50,290.50 C43.75,285.54 40.50,267.78 40.50,249.20 Z" fill="#8d00a9" opacity="0.70" filter="url(#b3)"/>
<path d="M44.00,251.20 C44.00,247.70 46.80,246.20 51.00,246.20 C55.20,246.20 58.00,247.70 58.00,251.20 C58.00,267.99 55.40,284.02 54.00,288.50 C52.50,290.00 49.50,290.00 48.00,288.50 C46.60,284.02 44.00,267.99 44.00,251.20 Z" fill="#c01ab0" opacity="1.00" filter="url(#b1_5)"/>
<path d="M45.40,254.70 C45.40,251.20 47.64,249.70 51.00,249.70 C54.36,249.70 56.60,251.20 56.60,254.70 C56.60,265.41 54.13,275.64 52.80,278.50 C51.90,280.00 50.10,280.00 49.20,278.50 C47.87,275.64 45.40,265.41 45.40,254.70 Z" fill="#f03080" opacity="1.00" filter="url(#b1_5)"/>
<path d="M47.30,256.70 C47.30,253.20 48.78,251.70 51.00,251.70 C53.22,251.70 54.70,253.20 54.70,256.70 C54.70,263.36 53.08,269.72 52.20,271.50 C51.60,273.00 50.40,273.00 49.80,271.50 C48.92,269.72 47.30,263.36 47.30,256.70 Z" fill="#ff3c74" opacity="1.00" filter="url(#b1_5)"/>
</g>
<text class="cred" x="31.6" y="251.5" font-size="7.6" text-anchor="middle">2</text>
<text class="cred" x="26.3" y="264.9" font-size="7.2" textLength="12.5" lengthAdjust="spacingAndGlyphs">min</text>
<clipPath id="cC5"><rect x="78.2" y="244.2" width="53.0" height="43.3"/></clipPath>
<g clip-path="url(#cC5)">
<rect x="78.2" y="244.2" width="53.0" height="43.3" fill="#4006a0"/>
<rect x="116.2" y="241.2" width="6" height="49.3" fill="#26047a" opacity="0.30" filter="url(#b1_5)"/>
<path d="M95.70,249.20 C95.70,245.00 99.90,243.20 106.20,243.20 C112.50,243.20 116.70,245.00 116.70,249.20 C116.70,267.78 113.45,285.54 111.70,290.50 C108.95,292.00 103.45,292.00 100.70,290.50 C98.95,285.54 95.70,267.78 95.70,249.20 Z" fill="#9600aa" opacity="0.80" filter="url(#b3)"/>
<path d="M99.20,251.20 C99.20,247.70 102.00,246.20 106.20,246.20 C110.40,246.20 113.20,247.70 113.20,251.20 C113.20,267.99 110.60,284.02 109.20,288.50 C107.70,290.00 104.70,290.00 103.20,288.50 C101.80,284.02 99.20,267.99 99.20,251.20 Z" fill="#c81ea8" opacity="1.00" filter="url(#b1_5)"/>
<path d="M100.60,254.70 C100.60,251.20 102.84,249.70 106.20,249.70 C109.56,249.70 111.80,251.20 111.80,254.70 C111.80,265.41 109.33,275.64 108.00,278.50 C107.10,280.00 105.30,280.00 104.40,278.50 C103.07,275.64 100.60,265.41 100.60,254.70 Z" fill="#ff3c68" opacity="1.00" filter="url(#b1_5)"/>
<path d="M102.50,256.70 C102.50,253.20 103.98,251.70 106.20,251.70 C108.42,251.70 109.90,253.20 109.90,256.70 C109.90,263.36 108.28,269.72 107.40,271.50 C106.80,273.00 105.60,273.00 105.00,271.50 C104.12,269.72 102.50,263.36 102.50,256.70 Z" fill="#ff4a5c" opacity="1.00" filter="url(#b1_5)"/>
</g>
<text class="cred" x="87.2" y="251.5" font-size="7.6" text-anchor="middle">2.5</text>
<text class="cred" x="81.9" y="264.9" font-size="7.2" textLength="12.5" lengthAdjust="spacingAndGlyphs">min</text>
<clipPath id="cC6"><rect x="133.1" y="244.2" width="53.0" height="43.3"/></clipPath>
<g clip-path="url(#cC6)">
<rect x="133.1" y="244.2" width="53.0" height="43.3" fill="#4006a0"/>
<rect x="171.1" y="241.2" width="6" height="49.3" fill="#26047a" opacity="0.30" filter="url(#b1_5)"/>
<path d="M150.60,249.20 C150.60,245.00 154.80,243.20 161.10,243.20 C167.40,243.20 171.60,245.00 171.60,249.20 C171.60,267.78 168.35,285.54 166.60,290.50 C163.85,292.00 158.35,292.00 155.60,290.50 C153.85,285.54 150.60,267.78 150.60,249.20 Z" fill="#9f03a6" opacity="0.85" filter="url(#b3)"/>
<path d="M154.10,251.20 C154.10,247.70 156.90,246.20 161.10,246.20 C165.30,246.20 168.10,247.70 168.10,251.20 C168.10,267.99 165.50,284.02 164.10,288.50 C162.60,290.00 159.60,290.00 158.10,288.50 C156.70,284.02 154.10,267.99 154.10,251.20 Z" fill="#d422a0" opacity="1.00" filter="url(#b1_5)"/>
<path d="M155.50,254.70 C155.50,251.20 157.74,249.70 161.10,249.70 C164.46,249.70 166.70,251.20 166.70,254.70 C166.70,265.41 164.23,275.64 162.90,278.50 C162.00,280.00 160.20,280.00 159.30,278.50 C157.97,275.64 155.50,265.41 155.50,254.70 Z" fill="#ff4c50" opacity="1.00" filter="url(#b1_5)"/>
<path d="M157.40,256.70 C157.40,253.20 158.88,251.70 161.10,251.70 C163.32,251.70 164.80,253.20 164.80,256.70 C164.80,263.36 163.17,269.72 162.30,271.50 C161.70,273.00 160.50,273.00 159.90,271.50 C159.03,269.72 157.40,263.36 157.40,256.70 Z" fill="#ff6040" opacity="1.00" filter="url(#b1_5)"/>
</g>
<text class="cred" x="141.2" y="251.5" font-size="7.6" text-anchor="middle">3</text>
<text class="cred" x="135.9" y="264.9" font-size="7.2" textLength="12.5" lengthAdjust="spacingAndGlyphs">min</text>
<clipPath id="cC7"><rect x="188.4" y="244.2" width="53.0" height="43.3"/></clipPath>
<g clip-path="url(#cC7)">
<rect x="188.4" y="244.2" width="53.0" height="43.3" fill="#4006a0"/>
<rect x="226.4" y="241.2" width="6" height="49.3" fill="#26047a" opacity="0.30" filter="url(#b1_5)"/>
<path d="M205.90,249.20 C205.90,245.00 210.10,243.20 216.40,243.20 C222.70,243.20 226.90,245.00 226.90,249.20 C226.90,267.78 223.65,285.54 221.90,290.50 C219.15,292.00 213.65,292.00 210.90,290.50 C209.15,285.54 205.90,267.78 205.90,249.20 Z" fill="#a707a2" opacity="0.85" filter="url(#b3)"/>
<path d="M209.40,251.20 C209.40,247.70 212.20,246.20 216.40,246.20 C220.60,246.20 223.40,247.70 223.40,251.20 C223.40,267.99 220.80,284.02 219.40,288.50 C217.90,290.00 214.90,290.00 213.40,288.50 C212.00,284.02 209.40,267.99 209.40,251.20 Z" fill="#dc2698" opacity="1.00" filter="url(#b1_5)"/>
<path d="M210.80,254.70 C210.80,251.20 213.04,249.70 216.40,249.70 C219.76,249.70 222.00,251.20 222.00,254.70 C222.00,265.41 219.53,275.64 218.20,278.50 C217.30,280.00 215.50,280.00 214.60,278.50 C213.27,275.64 210.80,265.41 210.80,254.70 Z" fill="#ff5c40" opacity="1.00" filter="url(#b1_5)"/>
<path d="M212.70,256.70 C212.70,253.20 214.18,251.70 216.40,251.70 C218.62,251.70 220.10,253.20 220.10,256.70 C220.10,263.36 218.47,269.72 217.60,271.50 C217.00,273.00 215.80,273.00 215.20,271.50 C214.33,269.72 212.70,263.36 212.70,256.70 Z" fill="#ff7830" opacity="1.00" filter="url(#b1_5)"/>
</g>
<text class="cred" x="196.2" y="251.5" font-size="7.6" text-anchor="middle">3.5</text>
<text class="cred" x="190.9" y="264.9" font-size="7.2" textLength="12.5" lengthAdjust="spacingAndGlyphs">min</text>
<clipPath id="cC8"><rect x="23.0" y="289.6" width="53.0" height="42.0"/></clipPath>
<g clip-path="url(#cC8)">
<rect x="23.0" y="289.6" width="53.0" height="42.0" fill="#4806a6"/>
<rect x="61.0" y="286.6" width="6" height="48.0" fill="#26047a" opacity="0.30" filter="url(#b1_5)"/>
<path d="M40.50,293.10 C40.50,288.90 44.70,287.10 51.00,287.10 C57.30,287.10 61.50,288.90 61.50,293.10 C61.50,311.78 58.25,329.62 56.50,334.60 C53.75,336.10 48.25,336.10 45.50,334.60 C43.75,329.62 40.50,311.78 40.50,293.10 Z" fill="#ac08a0" opacity="0.85" filter="url(#b3)"/>
<path d="M44.00,295.10 C44.00,291.60 46.80,290.10 51.00,290.10 C55.20,290.10 58.00,291.60 58.00,295.10 C58.00,311.98 55.40,328.10 54.00,332.60 C52.50,334.10 49.50,334.10 48.00,332.60 C46.60,328.10 44.00,311.98 44.00,295.10 Z" fill="#ee2e80" opacity="1.00" filter="url(#b1_5)"/>
<path d="M45.40,298.60 C45.40,295.10 47.64,293.60 51.00,293.60 C54.36,293.60 56.60,295.10 56.60,298.60 C56.60,310.30 54.13,321.48 52.80,324.60 C51.90,326.10 50.10,326.10 49.20,324.60 C47.87,321.48 45.40,310.30 45.40,298.60 Z" fill="#ff7030" opacity="1.00" filter="url(#b1_5)"/>
<path d="M46.70,300.60 C46.70,297.10 48.42,295.60 51.00,295.60 C53.58,295.60 55.30,297.10 55.30,300.60 C55.30,308.25 53.29,315.56 52.20,317.60 C51.60,319.10 50.40,319.10 49.80,317.60 C48.71,315.56 46.70,308.25 46.70,300.60 Z" fill="#ff9a1c" opacity="1.00" filter="url(#b1_5)"/>
</g>
<text class="cred" x="31.6" y="296.2" font-size="7.6" text-anchor="middle">4</text>
<text class="cred" x="26.3" y="309.9" font-size="7.2" textLength="12.5" lengthAdjust="spacingAndGlyphs">min</text>
<clipPath id="cC9"><rect x="78.2" y="289.6" width="53.0" height="42.0"/></clipPath>
<g clip-path="url(#cC9)">
<rect x="78.2" y="289.6" width="53.0" height="42.0" fill="#4806a6"/>
<rect x="116.2" y="286.6" width="6" height="48.0" fill="#26047a" opacity="0.30" filter="url(#b1_5)"/>
<path d="M95.70,293.10 C95.70,288.90 99.90,287.10 106.20,287.10 C112.50,287.10 116.70,288.90 116.70,293.10 C116.70,311.78 113.45,329.62 111.70,334.60 C108.95,336.10 103.45,336.10 100.70,334.60 C98.95,329.62 95.70,311.78 95.70,293.10 Z" fill="#ac08a0" opacity="0.85" filter="url(#b3)"/>
<path d="M99.20,295.10 C99.20,291.60 102.00,290.10 106.20,290.10 C110.40,290.10 113.20,291.60 113.20,295.10 C113.20,311.98 110.60,328.10 109.20,332.60 C107.70,334.10 104.70,334.10 103.20,332.60 C101.80,328.10 99.20,311.98 99.20,295.10 Z" fill="#f0327c" opacity="1.00" filter="url(#b1_5)"/>
<path d="M100.60,298.60 C100.60,295.10 102.84,293.60 106.20,293.60 C109.56,293.60 111.80,295.10 111.80,298.60 C111.80,310.30 109.33,321.48 108.00,324.60 C107.10,326.10 105.30,326.10 104.40,324.60 C103.07,321.48 100.60,310.30 100.60,298.60 Z" fill="#ff7a2a" opacity="1.00" filter="url(#b1_5)"/>
<path d="M101.90,300.60 C101.90,297.10 103.62,295.60 106.20,295.60 C108.78,295.60 110.50,297.10 110.50,300.60 C110.50,308.25 108.48,315.56 107.40,317.60 C106.80,319.10 105.60,319.10 105.00,317.60 C103.92,315.56 101.90,308.25 101.90,300.60 Z" fill="#ffa418" opacity="1.00" filter="url(#b1_5)"/>
</g>
<text class="cred" x="87.2" y="296.2" font-size="7.6" text-anchor="middle">4.5</text>
<text class="cred" x="81.9" y="309.9" font-size="7.2" textLength="12.5" lengthAdjust="spacingAndGlyphs">min</text>
<clipPath id="cC10"><rect x="133.1" y="289.6" width="53.0" height="42.0"/></clipPath>
<g clip-path="url(#cC10)">
<rect x="133.1" y="289.6" width="53.0" height="42.0" fill="#4806a6"/>
<rect x="171.1" y="286.6" width="6" height="48.0" fill="#26047a" opacity="0.30" filter="url(#b1_5)"/>
<path d="M150.60,293.10 C150.60,288.90 154.80,287.10 161.10,287.10 C167.40,287.10 171.60,288.90 171.60,293.10 C171.60,311.78 168.35,329.62 166.60,334.60 C163.85,336.10 158.35,336.10 155.60,334.60 C153.85,329.62 150.60,311.78 150.60,293.10 Z" fill="#ac08a0" opacity="0.85" filter="url(#b3)"/>
<path d="M154.10,295.10 C154.10,291.60 156.90,290.10 161.10,290.10 C165.30,290.10 168.10,291.60 168.10,295.10 C168.10,311.98 165.50,328.10 164.10,332.60 C162.60,334.10 159.60,334.10 158.10,332.60 C156.70,328.10 154.10,311.98 154.10,295.10 Z" fill="#f23478" opacity="1.00" filter="url(#b1_5)"/>
<path d="M155.50,298.60 C155.50,295.10 157.74,293.60 161.10,293.60 C164.46,293.60 166.70,295.10 166.70,298.60 C166.70,310.30 164.23,321.48 162.90,324.60 C162.00,326.10 160.20,326.10 159.30,324.60 C157.97,321.48 155.50,310.30 155.50,298.60 Z" fill="#ff8224" opacity="1.00" filter="url(#b1_5)"/>
<path d="M156.80,300.60 C156.80,297.10 158.52,295.60 161.10,295.60 C163.68,295.60 165.40,297.10 165.40,300.60 C165.40,308.25 163.38,315.56 162.30,317.60 C161.70,319.10 160.50,319.10 159.90,317.60 C158.81,315.56 156.80,308.25 156.80,300.60 Z" fill="#ffac14" opacity="1.00" filter="url(#b1_5)"/>
</g>
<text class="cred" x="141.2" y="296.2" font-size="7.6" text-anchor="middle">5</text>
<text class="cred" x="135.9" y="309.9" font-size="7.2" textLength="12.5" lengthAdjust="spacingAndGlyphs">min</text>
<clipPath id="cC11"><rect x="188.4" y="289.6" width="53.0" height="42.0"/></clipPath>
<g clip-path="url(#cC11)">
<rect x="188.4" y="289.6" width="53.0" height="42.0" fill="#4806a6"/>
<rect x="226.4" y="286.6" width="6" height="48.0" fill="#26047a" opacity="0.30" filter="url(#b1_5)"/>
<path d="M205.90,293.10 C205.90,288.90 210.10,287.10 216.40,287.10 C222.70,287.10 226.90,288.90 226.90,293.10 C226.90,311.78 223.65,329.62 221.90,334.60 C219.15,336.10 213.65,336.10 210.90,334.60 C209.15,329.62 205.90,311.78 205.90,293.10 Z" fill="#ac08a0" opacity="0.85" filter="url(#b3)"/>
<path d="M209.40,295.10 C209.40,291.60 212.20,290.10 216.40,290.10 C220.60,290.10 223.40,291.60 223.40,295.10 C223.40,311.98 220.80,328.10 219.40,332.60 C217.90,334.10 214.90,334.10 213.40,332.60 C212.00,328.10 209.40,311.98 209.40,295.10 Z" fill="#f23676" opacity="1.00" filter="url(#b1_5)"/>
<path d="M210.80,298.60 C210.80,295.10 213.04,293.60 216.40,293.60 C219.76,293.60 222.00,295.10 222.00,298.60 C222.00,310.30 219.53,321.48 218.20,324.60 C217.30,326.10 215.50,326.10 214.60,324.60 C213.27,321.48 210.80,310.30 210.80,298.60 Z" fill="#ff8a20" opacity="1.00" filter="url(#b1_5)"/>
<path d="M212.10,300.60 C212.10,297.10 213.82,295.60 216.40,295.60 C218.98,295.60 220.70,297.10 220.70,300.60 C220.70,308.25 218.69,315.56 217.60,317.60 C217.00,319.10 215.80,319.10 215.20,317.60 C214.12,315.56 212.10,308.25 212.10,300.60 Z" fill="#ffb414" opacity="1.00" filter="url(#b1_5)"/>
</g>
<text class="cred" x="196.2" y="296.2" font-size="7.6" text-anchor="middle">5.5</text>
<text class="cred" x="190.9" y="309.9" font-size="7.2" textLength="12.5" lengthAdjust="spacingAndGlyphs">min</text>
<clipPath id="cC12"><rect x="23.0" y="334.7" width="53.0" height="42.0"/></clipPath>
<g clip-path="url(#cC12)">
<rect x="23.0" y="334.7" width="53.0" height="42.0" fill="#4a06a8"/>
<rect x="61.0" y="331.7" width="6" height="48.0" fill="#26047a" opacity="0.30" filter="url(#b1_5)"/>
<path d="M40.50,337.70 C40.50,333.50 44.70,331.70 51.00,331.70 C57.30,331.70 61.50,333.50 61.50,337.70 C61.50,356.60 58.25,374.66 56.50,379.70 C53.75,381.20 48.25,381.20 45.50,379.70 C43.75,374.66 40.50,356.60 40.50,337.70 Z" fill="#ac08a0" opacity="0.85" filter="url(#b3)"/>
<path d="M44.00,339.70 C44.00,336.20 46.80,334.70 51.00,334.70 C55.20,334.70 58.00,336.20 58.00,339.70 C58.00,356.80 55.40,373.14 54.00,377.70 C52.50,379.20 49.50,379.20 48.00,377.70 C46.60,373.14 44.00,356.80 44.00,339.70 Z" fill="#f43874" opacity="1.00" filter="url(#b1_5)"/>
<path d="M45.40,343.20 C45.40,339.70 47.64,338.20 51.00,338.20 C54.36,338.20 56.60,339.70 56.60,343.20 C56.60,355.12 54.13,366.52 52.80,369.70 C51.90,371.20 50.10,371.20 49.20,369.70 C47.87,366.52 45.40,355.12 45.40,343.20 Z" fill="#ff9020" opacity="1.00" filter="url(#b1_5)"/>
<path d="M46.70,345.20 C46.70,341.70 48.42,340.20 51.00,340.20 C53.58,340.20 55.30,341.70 55.30,345.20 C55.30,353.07 53.29,360.60 52.20,362.70 C51.60,364.20 50.40,364.20 49.80,362.70 C48.71,360.60 46.70,353.07 46.70,345.20 Z" fill="#ffbc18" opacity="1.00" filter="url(#b1_5)"/>
</g>
<text class="cred" x="31.6" y="341.1" font-size="7.6" text-anchor="middle">6</text>
<text class="cred" x="26.3" y="354.3" font-size="7.2" textLength="12.5" lengthAdjust="spacingAndGlyphs">min</text>
<clipPath id="cC13"><rect x="78.2" y="334.7" width="53.0" height="42.0"/></clipPath>
<g clip-path="url(#cC13)">
<rect x="78.2" y="334.7" width="53.0" height="42.0" fill="#4a06a8"/>
<rect x="116.2" y="331.7" width="6" height="48.0" fill="#26047a" opacity="0.30" filter="url(#b1_5)"/>
<path d="M95.70,337.70 C95.70,333.50 99.90,331.70 106.20,331.70 C112.50,331.70 116.70,333.50 116.70,337.70 C116.70,356.60 113.45,374.66 111.70,379.70 C108.95,381.20 103.45,381.20 100.70,379.70 C98.95,374.66 95.70,356.60 95.70,337.70 Z" fill="#ac08a0" opacity="0.85" filter="url(#b3)"/>
<path d="M99.20,339.70 C99.20,336.20 102.00,334.70 106.20,334.70 C110.40,334.70 113.20,336.20 113.20,339.70 C113.20,356.80 110.60,373.14 109.20,377.70 C107.70,379.20 104.70,379.20 103.20,377.70 C101.80,373.14 99.20,356.80 99.20,339.70 Z" fill="#f43a72" opacity="1.00" filter="url(#b1_5)"/>
<path d="M100.60,343.20 C100.60,339.70 102.84,338.20 106.20,338.20 C109.56,338.20 111.80,339.70 111.80,343.20 C111.80,355.12 109.33,366.52 108.00,369.70 C107.10,371.20 105.30,371.20 104.40,369.70 C103.07,366.52 100.60,355.12 100.60,343.20 Z" fill="#ff9620" opacity="1.00" filter="url(#b1_5)"/>
<path d="M101.90,345.20 C101.90,341.70 103.62,340.20 106.20,340.20 C108.78,340.20 110.50,341.70 110.50,345.20 C110.50,353.07 108.48,360.60 107.40,362.70 C106.80,364.20 105.60,364.20 105.00,362.70 C103.92,360.60 101.90,353.07 101.90,345.20 Z" fill="#ffc41c" opacity="1.00" filter="url(#b1_5)"/>
</g>
<text class="cred" x="87.2" y="341.1" font-size="7.6" text-anchor="middle">6.5</text>
<text class="cred" x="81.9" y="354.3" font-size="7.2" textLength="12.5" lengthAdjust="spacingAndGlyphs">min</text>
<clipPath id="cC14"><rect x="133.1" y="334.7" width="53.0" height="42.0"/></clipPath>
<g clip-path="url(#cC14)">
<rect x="133.1" y="334.7" width="53.0" height="42.0" fill="#4a06a8"/>
<rect x="171.1" y="331.7" width="6" height="48.0" fill="#26047a" opacity="0.30" filter="url(#b1_5)"/>
<path d="M150.60,337.70 C150.60,333.50 154.80,331.70 161.10,331.70 C167.40,331.70 171.60,333.50 171.60,337.70 C171.60,356.60 168.35,374.66 166.60,379.70 C163.85,381.20 158.35,381.20 155.60,379.70 C153.85,374.66 150.60,356.60 150.60,337.70 Z" fill="#ac08a0" opacity="0.85" filter="url(#b3)"/>
<path d="M154.10,339.70 C154.10,336.20 156.90,334.70 161.10,334.70 C165.30,334.70 168.10,336.20 168.10,339.70 C168.10,356.80 165.50,373.14 164.10,377.70 C162.60,379.20 159.60,379.20 158.10,377.70 C156.70,373.14 154.10,356.80 154.10,339.70 Z" fill="#f43c70" opacity="1.00" filter="url(#b1_5)"/>
<path d="M155.50,343.20 C155.50,339.70 157.74,338.20 161.10,338.20 C164.46,338.20 166.70,339.70 166.70,343.20 C166.70,355.12 164.23,366.52 162.90,369.70 C162.00,371.20 160.20,371.20 159.30,369.70 C157.97,366.52 155.50,355.12 155.50,343.20 Z" fill="#ff9a20" opacity="1.00" filter="url(#b1_5)"/>
<path d="M156.80,345.20 C156.80,341.70 158.52,340.20 161.10,340.20 C163.68,340.20 165.40,341.70 165.40,345.20 C165.40,353.07 163.38,360.60 162.30,362.70 C161.70,364.20 160.50,364.20 159.90,362.70 C158.81,360.60 156.80,353.07 156.80,345.20 Z" fill="#ffca20" opacity="1.00" filter="url(#b1_5)"/>
</g>
<text class="cred" x="141.2" y="341.1" font-size="7.6" text-anchor="middle">7</text>
<text class="cred" x="135.9" y="354.3" font-size="7.2" textLength="12.5" lengthAdjust="spacingAndGlyphs">min</text>
<clipPath id="cC15"><rect x="188.4" y="334.7" width="53.0" height="42.0"/></clipPath>
<g clip-path="url(#cC15)">
<rect x="188.4" y="334.7" width="53.0" height="42.0" fill="#4a06a8"/>
<rect x="226.4" y="331.7" width="6" height="48.0" fill="#26047a" opacity="0.30" filter="url(#b1_5)"/>
<path d="M205.90,337.70 C205.90,333.50 210.10,331.70 216.40,331.70 C222.70,331.70 226.90,333.50 226.90,337.70 C226.90,356.60 223.65,374.66 221.90,379.70 C219.15,381.20 213.65,381.20 210.90,379.70 C209.15,374.66 205.90,356.60 205.90,337.70 Z" fill="#ac08a0" opacity="0.85" filter="url(#b3)"/>
<path d="M209.40,339.70 C209.40,336.20 212.20,334.70 216.40,334.70 C220.60,334.70 223.40,336.20 223.40,339.70 C223.40,356.80 220.80,373.14 219.40,377.70 C217.90,379.20 214.90,379.20 213.40,377.70 C212.00,373.14 209.40,356.80 209.40,339.70 Z" fill="#f6406e" opacity="1.00" filter="url(#b1_5)"/>
<path d="M210.80,343.20 C210.80,339.70 213.04,338.20 216.40,338.20 C219.76,338.20 222.00,339.70 222.00,343.20 C222.00,355.12 219.53,366.52 218.20,369.70 C217.30,371.20 215.50,371.20 214.60,369.70 C213.27,366.52 210.80,355.12 210.80,343.20 Z" fill="#ffa020" opacity="1.00" filter="url(#b1_5)"/>
<path d="M212.10,345.20 C212.10,341.70 213.82,340.20 216.40,340.20 C218.98,340.20 220.70,341.70 220.70,345.20 C220.70,353.07 218.69,360.60 217.60,362.70 C217.00,364.20 215.80,364.20 215.20,362.70 C214.12,360.60 212.10,353.07 212.10,345.20 Z" fill="#ffd024" opacity="1.00" filter="url(#b1_5)"/>
</g>
<text class="cred" x="196.2" y="341.1" font-size="7.6" text-anchor="middle">7.5</text>
<text class="cred" x="190.9" y="354.3" font-size="7.2" textLength="12.5" lengthAdjust="spacingAndGlyphs">min</text>
<rect x="245.8" y="4.7" width="28.2" height="179.0" fill="#4e04a4"/>
<rect x="245.8" y="4.7" width="28.2" height="18.7" fill="url(#hdr)"/>
<rect x="245.8" y="164.1" width="28.2" height="19.6" fill="url(#ftr)"/>
<rect x="260.0" y="24.8" width="11.6" height="138.3" fill="url(#cbar)" stroke="#a898b0" stroke-width="0.6"/>
<text class="cb" x="249.4" y="19.4" font-size="13" textLength="21.8" lengthAdjust="spacingAndGlyphs">60.0</text>
<text class="cb" x="249.4" y="178.8" font-size="13" textLength="21.8" lengthAdjust="spacingAndGlyphs">20.0</text>
<rect x="517.9" y="4.7" width="28.2" height="179.0" fill="#4e04a4"/>
<rect x="517.9" y="4.7" width="28.2" height="18.7" fill="url(#hdr)"/>
<rect x="517.9" y="164.1" width="28.2" height="19.6" fill="url(#ftr)"/>
<rect x="531.5" y="24.8" width="11.5" height="138.3" fill="url(#cbar)" stroke="#a898b0" stroke-width="0.6"/>
<text class="cb" x="521.0" y="19.4" font-size="13" textLength="20.9" lengthAdjust="spacingAndGlyphs">60.0</text>
<text class="cb" x="521.0" y="178.8" font-size="13" textLength="20.9" lengthAdjust="spacingAndGlyphs">20.0</text>
<rect x="247.1" y="199.0" width="26.9" height="178.1" fill="#4e04a4"/>
<rect x="247.1" y="199.0" width="26.9" height="18.0" fill="url(#hdr)"/>
<rect x="247.1" y="358.2" width="26.9" height="18.9" fill="url(#ftr)"/>
<rect x="260.1" y="218.9" width="11.6" height="138.3" fill="url(#cbar)" stroke="#a898b0" stroke-width="0.6"/>
<text class="cb" x="250.5" y="213.0" font-size="13" textLength="20.7" lengthAdjust="spacingAndGlyphs">60.0</text>
<text class="cb" x="250.5" y="372.9" font-size="13" textLength="20.7" lengthAdjust="spacingAndGlyphs">20.0</text>
<g fill="none" stroke="#2a2a2a" stroke-width="1.1">
<rect x="328.4" y="207.4" width="209.8" height="137.5"/>
<line x1="325.4" y1="344.9" x2="328.4" y2="344.9"/>
<line x1="325.4" y1="325.3" x2="328.4" y2="325.3"/>
<line x1="325.4" y1="305.6" x2="328.4" y2="305.6"/>
<line x1="325.4" y1="286.0" x2="328.4" y2="286.0"/>
<line x1="325.4" y1="266.3" x2="328.4" y2="266.3"/>
<line x1="325.4" y1="246.7" x2="328.4" y2="246.7"/>
<line x1="325.4" y1="227.0" x2="328.4" y2="227.0"/>
<line x1="325.4" y1="207.4" x2="328.4" y2="207.4"/>
<line x1="326.9" y1="335.1" x2="328.4" y2="335.1"/>
<line x1="326.9" y1="315.4" x2="328.4" y2="315.4"/>
<line x1="326.9" y1="295.8" x2="328.4" y2="295.8"/>
<line x1="326.9" y1="276.1" x2="328.4" y2="276.1"/>
<line x1="326.9" y1="256.5" x2="328.4" y2="256.5"/>
<line x1="326.9" y1="236.9" x2="328.4" y2="236.9"/>
<line x1="326.9" y1="217.2" x2="328.4" y2="217.2"/>
<line x1="333.2" y1="344.9" x2="333.2" y2="347.9"/>
<line x1="358.8" y1="344.9" x2="358.8" y2="347.9"/>
<line x1="384.4" y1="344.9" x2="384.4" y2="347.9"/>
<line x1="410.1" y1="344.9" x2="410.1" y2="347.9"/>
<line x1="435.7" y1="344.9" x2="435.7" y2="347.9"/>
<line x1="461.3" y1="344.9" x2="461.3" y2="347.9"/>
<line x1="487.0" y1="344.9" x2="487.0" y2="347.9"/>
<line x1="512.6" y1="344.9" x2="512.6" y2="347.9"/>
<line x1="538.2" y1="344.9" x2="538.2" y2="347.9"/>
<line x1="346.0" y1="344.9" x2="346.0" y2="346.4"/>
<line x1="371.6" y1="344.9" x2="371.6" y2="346.4"/>
<line x1="397.3" y1="344.9" x2="397.3" y2="346.4"/>
<line x1="422.9" y1="344.9" x2="422.9" y2="346.4"/>
<line x1="448.5" y1="344.9" x2="448.5" y2="346.4"/>
<line x1="474.1" y1="344.9" x2="474.1" y2="346.4"/>
<line x1="499.8" y1="344.9" x2="499.8" y2="346.4"/>
<line x1="525.4" y1="344.9" x2="525.4" y2="346.4"/>
</g>
<text class="ax" x="323.7" y="347.6" font-size="8" text-anchor="end">20</text>
<text class="ax" x="323.7" y="328.0" font-size="8" text-anchor="end">25</text>
<text class="ax" x="323.7" y="308.3" font-size="8" text-anchor="end">30</text>
<text class="ax" x="323.7" y="288.7" font-size="8" text-anchor="end">35</text>
<text class="ax" x="323.7" y="269.0" font-size="8" text-anchor="end">40</text>
<text class="ax" x="323.7" y="249.4" font-size="8" text-anchor="end">45</text>
<text class="ax" x="323.7" y="229.7" font-size="8" text-anchor="end">50</text>
<text class="ax" x="323.7" y="210.1" font-size="8" text-anchor="end">55</text>
<text class="ax" x="333.2" y="355.6" font-size="8" text-anchor="middle">0</text>
<text class="ax" x="358.8" y="355.6" font-size="8" text-anchor="middle">1</text>
<text class="ax" x="384.4" y="355.6" font-size="8" text-anchor="middle">2</text>
<text class="ax" x="410.1" y="355.6" font-size="8" text-anchor="middle">3</text>
<text class="ax" x="435.7" y="355.6" font-size="8" text-anchor="middle">4</text>
<text class="ax" x="461.3" y="355.6" font-size="8" text-anchor="middle">5</text>
<text class="ax" x="487.0" y="355.6" font-size="8" text-anchor="middle">6</text>
<text class="ax" x="512.6" y="355.6" font-size="8" text-anchor="middle">7</text>
<text class="ax" x="538.2" y="355.6" font-size="8" text-anchor="middle">8</text>
<text class="ax" x="405.5" y="371.8" font-size="11.5" textLength="54.7" lengthAdjust="spacingAndGlyphs">Time (min)</text>
<text class="ax" transform="translate(310.7,317.8) rotate(-90)" font-size="11.3" textLength="82.8" lengthAdjust="spacingAndGlyphs">Temperature (°C)</text>
<polyline points="333.2,327.2 346.0,322.9 358.8,313.9 371.6,306.0 384.4,298.5 397.3,291.1 410.1,285.2 422.9,279.3 435.7,275.8 448.5,271.4 461.3,269.1 474.1,265.1 487.0,262.8 499.8,259.6 512.6,255.7 525.4,253.4" fill="none" stroke="#404040" stroke-width="1.1"/>
<polyline points="333.2,327.2 346.0,326.4 358.8,319.8 371.6,313.5 384.4,306.8 397.3,300.9 410.1,296.6 422.9,289.5 435.7,285.2 448.5,283.2 461.3,278.9 474.1,278.1 487.0,274.2 499.8,273.0 512.6,271.4 525.4,269.1" fill="none" stroke="#ff2a2a" stroke-width="1.1"/>
<polyline points="333.2,327.2 346.0,316.2 358.8,304.4 371.6,294.6 384.4,279.7 397.3,272.2 410.1,264.8 422.9,257.7 435.7,250.6 448.5,244.7 461.3,239.2 474.1,234.9 487.0,231.0 499.8,227.4 512.6,223.1 525.4,221.9" fill="none" stroke="#1e6fe6" stroke-width="1.1"/>
<rect x="331.9" y="325.9" width="2.6" height="2.6" fill="#404040"/>
<rect x="344.7" y="321.6" width="2.6" height="2.6" fill="#404040"/>
<rect x="357.5" y="312.6" width="2.6" height="2.6" fill="#404040"/>
<rect x="370.3" y="304.7" width="2.6" height="2.6" fill="#404040"/>
<rect x="383.1" y="297.2" width="2.6" height="2.6" fill="#404040"/>
<rect x="396.0" y="289.8" width="2.6" height="2.6" fill="#404040"/>
<rect x="408.8" y="283.9" width="2.6" height="2.6" fill="#404040"/>
<rect x="421.6" y="278.0" width="2.6" height="2.6" fill="#404040"/>
<rect x="434.4" y="274.5" width="2.6" height="2.6" fill="#404040"/>
<rect x="447.2" y="270.1" width="2.6" height="2.6" fill="#404040"/>
<rect x="460.0" y="267.8" width="2.6" height="2.6" fill="#404040"/>
<rect x="472.8" y="263.8" width="2.6" height="2.6" fill="#404040"/>
<rect x="485.7" y="261.5" width="2.6" height="2.6" fill="#404040"/>
<rect x="498.5" y="258.3" width="2.6" height="2.6" fill="#404040"/>
<rect x="511.3" y="254.4" width="2.6" height="2.6" fill="#404040"/>
<rect x="524.1" y="252.1" width="2.6" height="2.6" fill="#404040"/>
<circle cx="333.2" cy="327.2" r="1.5" fill="#ff2a2a"/>
<circle cx="346.0" cy="326.4" r="1.5" fill="#ff2a2a"/>
<circle cx="358.8" cy="319.8" r="1.5" fill="#ff2a2a"/>
<circle cx="371.6" cy="313.5" r="1.5" fill="#ff2a2a"/>
<circle cx="384.4" cy="306.8" r="1.5" fill="#ff2a2a"/>
<circle cx="397.3" cy="300.9" r="1.5" fill="#ff2a2a"/>
<circle cx="410.1" cy="296.6" r="1.5" fill="#ff2a2a"/>
<circle cx="422.9" cy="289.5" r="1.5" fill="#ff2a2a"/>
<circle cx="435.7" cy="285.2" r="1.5" fill="#ff2a2a"/>
<circle cx="448.5" cy="283.2" r="1.5" fill="#ff2a2a"/>
<circle cx="461.3" cy="278.9" r="1.5" fill="#ff2a2a"/>
<circle cx="474.1" cy="278.1" r="1.5" fill="#ff2a2a"/>
<circle cx="487.0" cy="274.2" r="1.5" fill="#ff2a2a"/>
<circle cx="499.8" cy="273.0" r="1.5" fill="#ff2a2a"/>
<circle cx="512.6" cy="271.4" r="1.5" fill="#ff2a2a"/>
<circle cx="525.4" cy="269.1" r="1.5" fill="#ff2a2a"/>
<polygon points="331.5,328.5 333.2,325.4 334.9,328.5" fill="#1e6fe6"/>
<polygon points="344.3,317.5 346.0,314.4 347.7,317.5" fill="#1e6fe6"/>
<polygon points="357.1,305.7 358.8,302.6 360.5,305.7" fill="#1e6fe6"/>
<polygon points="369.9,295.9 371.6,292.8 373.3,295.9" fill="#1e6fe6"/>
<polygon points="382.8,281.0 384.4,277.9 386.1,281.0" fill="#1e6fe6"/>
<polygon points="395.6,273.5 397.3,270.4 399.0,273.5" fill="#1e6fe6"/>
<polygon points="408.4,266.1 410.1,263.0 411.8,266.1" fill="#1e6fe6"/>
<polygon points="421.2,259.0 422.9,255.9 424.6,259.0" fill="#1e6fe6"/>
<polygon points="434.0,251.9 435.7,248.8 437.4,251.9" fill="#1e6fe6"/>
<polygon points="446.8,246.0 448.5,242.9 450.2,246.0" fill="#1e6fe6"/>
<polygon points="459.6,240.5 461.3,237.4 463.0,240.5" fill="#1e6fe6"/>
<polygon points="472.4,236.2 474.1,233.1 475.8,236.2" fill="#1e6fe6"/>
<polygon points="485.3,232.3 487.0,229.2 488.7,232.3" fill="#1e6fe6"/>
<polygon points="498.1,228.7 499.8,225.6 501.5,228.7" fill="#1e6fe6"/>
<polygon points="510.9,224.4 512.6,221.3 514.3,224.4" fill="#1e6fe6"/>
<polygon points="523.7,223.2 525.4,220.1 527.1,223.2" fill="#1e6fe6"/>
<line x1="345" y1="220.7" x2="361.8" y2="220.7" stroke="#404040" stroke-width="1.1"/>
<rect x="352.1" y="219.4" width="2.6" height="2.6" fill="#404040"/>
<text class="ax" x="363.8" y="223.5" font-size="8">QC</text>
<line x1="345" y1="230.0" x2="361.8" y2="230.0" stroke="#ff2a2a" stroke-width="1.1"/>
<circle cx="353.4" cy="230.0" r="1.5" fill="#ff2a2a"/>
<text class="ax" x="363.8" y="232.8" font-size="8">QCD</text>
<line x1="345" y1="238.9" x2="361.8" y2="238.9" stroke="#1e6fe6" stroke-width="1.1"/>
<polygon points="351.7,240.2 353.4,237.1 355.1,240.2" fill="#1e6fe6"/>
<text class="ax" x="363.8" y="241.7" font-size="8">QCDA</text>
</svg></body></html>
